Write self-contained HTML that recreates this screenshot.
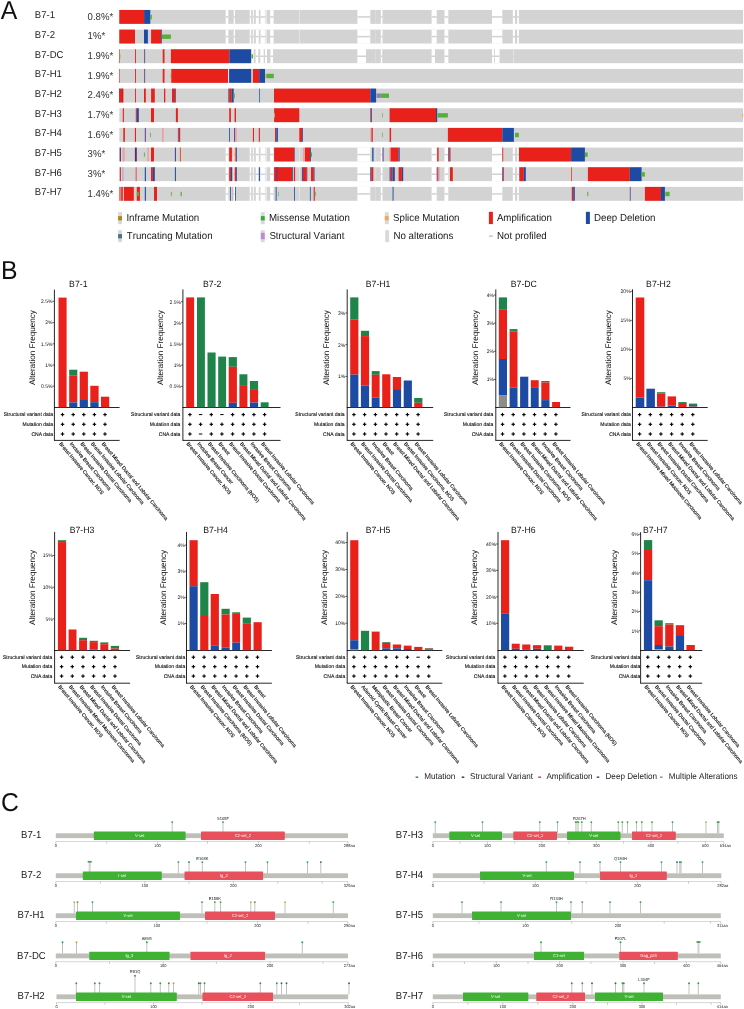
<!DOCTYPE html>
<html><head><meta charset="utf-8"><title>Figure</title>
<style>
html,body{margin:0;padding:0;background:#fff;}
svg{display:block;font-family:"Liberation Sans", Arial, sans-serif;text-rendering:geometricPrecision;}
</style></head><body>
<svg width="744" height="1009" viewBox="0 0 744 1009">
<rect x="0" y="0" width="744" height="1009" fill="#ffffff"/>
<text transform="translate(0.80,18.50) scale(0.9569,1)" font-size="25.916" text-anchor="start" fill="#111">A</text>
<text transform="translate(34.80,18.35) scale(0.9569,1)" font-size="9.980" text-anchor="start" fill="#222">B7-1</text>
<text transform="translate(87.60,19.80) scale(0.9569,1)" font-size="10.032" text-anchor="start" fill="#333">0.8%*</text>
<rect x="119.30" y="9.95" width="623.80" height="13.90" fill="#d3d3d3"/>
<rect x="225.70" y="9.75" width="2.60" height="14.30" fill="#ffffff"/>
<rect x="225.70" y="16.20" width="2.60" height="1.50" fill="#d0d3d3"/>
<rect x="233.70" y="9.75" width="1.30" height="14.30" fill="#ffffff"/>
<rect x="233.70" y="16.20" width="1.30" height="1.50" fill="#d0d3d3"/>
<rect x="249.75" y="9.75" width="1.35" height="14.30" fill="#ffffff"/>
<rect x="249.75" y="16.20" width="1.35" height="1.50" fill="#d0d3d3"/>
<rect x="252.80" y="9.75" width="1.00" height="14.30" fill="#ffffff"/>
<rect x="252.80" y="16.20" width="1.00" height="1.50" fill="#d0d3d3"/>
<rect x="255.80" y="9.75" width="3.00" height="14.30" fill="#ffffff"/>
<rect x="255.80" y="16.20" width="3.00" height="1.50" fill="#d0d3d3"/>
<rect x="260.50" y="9.75" width="4.40" height="14.30" fill="#ffffff"/>
<rect x="260.50" y="16.20" width="4.40" height="1.50" fill="#d0d3d3"/>
<rect x="265.50" y="9.75" width="1.00" height="14.30" fill="#ffffff"/>
<rect x="265.50" y="16.20" width="1.00" height="1.50" fill="#d0d3d3"/>
<rect x="270.20" y="9.75" width="3.40" height="14.30" fill="#ffffff"/>
<rect x="270.20" y="16.20" width="3.40" height="1.50" fill="#d0d3d3"/>
<rect x="299.30" y="9.75" width="0.40" height="14.30" fill="#ffffff"/>
<rect x="299.30" y="16.20" width="0.40" height="1.50" fill="#d0d3d3"/>
<rect x="357.40" y="9.75" width="12.90" height="14.30" fill="#ffffff"/>
<rect x="357.40" y="16.20" width="12.90" height="1.50" fill="#d0d3d3"/>
<rect x="380.80" y="9.75" width="1.70" height="14.30" fill="#ffffff"/>
<rect x="380.80" y="16.20" width="1.70" height="1.50" fill="#d0d3d3"/>
<rect x="431.60" y="9.75" width="5.10" height="14.30" fill="#ffffff"/>
<rect x="431.60" y="16.20" width="5.10" height="1.50" fill="#d0d3d3"/>
<rect x="444.50" y="9.75" width="3.80" height="14.30" fill="#ffffff"/>
<rect x="444.50" y="16.20" width="3.80" height="1.50" fill="#d0d3d3"/>
<rect x="492.00" y="9.75" width="10.30" height="14.30" fill="#ffffff"/>
<rect x="492.00" y="16.20" width="10.30" height="1.50" fill="#d0d3d3"/>
<rect x="512.80" y="9.75" width="2.20" height="14.30" fill="#ffffff"/>
<rect x="512.80" y="16.20" width="2.20" height="1.50" fill="#d0d3d3"/>
<rect x="517.20" y="9.75" width="1.70" height="14.30" fill="#ffffff"/>
<rect x="517.20" y="16.20" width="1.70" height="1.50" fill="#d0d3d3"/>
<rect x="375.30" y="9.95" width="0.70" height="13.90" fill="#dedede"/>
<rect x="119.30" y="9.95" width="24.80" height="13.90" fill="#e8211b"/>
<rect x="144.10" y="9.95" width="6.20" height="13.90" fill="#1d4ba3"/>
<rect x="150.30" y="14.85" width="1.60" height="4.40" fill="#55b03a"/>
<text transform="translate(34.80,38.01) scale(0.9569,1)" font-size="9.980" text-anchor="start" fill="#222">B7-2</text>
<text transform="translate(87.60,39.46) scale(0.9569,1)" font-size="10.032" text-anchor="start" fill="#333">1%*</text>
<rect x="119.30" y="29.61" width="623.80" height="13.90" fill="#d3d3d3"/>
<rect x="225.70" y="29.41" width="2.60" height="14.30" fill="#ffffff"/>
<rect x="225.70" y="35.86" width="2.60" height="1.50" fill="#d0d3d3"/>
<rect x="233.70" y="29.41" width="1.30" height="14.30" fill="#ffffff"/>
<rect x="233.70" y="35.86" width="1.30" height="1.50" fill="#d0d3d3"/>
<rect x="249.75" y="29.41" width="1.35" height="14.30" fill="#ffffff"/>
<rect x="249.75" y="35.86" width="1.35" height="1.50" fill="#d0d3d3"/>
<rect x="252.80" y="29.41" width="1.00" height="14.30" fill="#ffffff"/>
<rect x="252.80" y="35.86" width="1.00" height="1.50" fill="#d0d3d3"/>
<rect x="255.80" y="29.41" width="3.00" height="14.30" fill="#ffffff"/>
<rect x="255.80" y="35.86" width="3.00" height="1.50" fill="#d0d3d3"/>
<rect x="260.50" y="29.41" width="4.40" height="14.30" fill="#ffffff"/>
<rect x="260.50" y="35.86" width="4.40" height="1.50" fill="#d0d3d3"/>
<rect x="265.50" y="29.41" width="1.00" height="14.30" fill="#ffffff"/>
<rect x="265.50" y="35.86" width="1.00" height="1.50" fill="#d0d3d3"/>
<rect x="270.20" y="29.41" width="3.40" height="14.30" fill="#ffffff"/>
<rect x="270.20" y="35.86" width="3.40" height="1.50" fill="#d0d3d3"/>
<rect x="299.30" y="29.41" width="0.40" height="14.30" fill="#ffffff"/>
<rect x="299.30" y="35.86" width="0.40" height="1.50" fill="#d0d3d3"/>
<rect x="357.40" y="29.41" width="12.90" height="14.30" fill="#ffffff"/>
<rect x="357.40" y="35.86" width="12.90" height="1.50" fill="#d0d3d3"/>
<rect x="380.80" y="29.41" width="1.70" height="14.30" fill="#ffffff"/>
<rect x="380.80" y="35.86" width="1.70" height="1.50" fill="#d0d3d3"/>
<rect x="431.60" y="29.41" width="5.10" height="14.30" fill="#ffffff"/>
<rect x="431.60" y="35.86" width="5.10" height="1.50" fill="#d0d3d3"/>
<rect x="444.50" y="29.41" width="3.80" height="14.30" fill="#ffffff"/>
<rect x="444.50" y="35.86" width="3.80" height="1.50" fill="#d0d3d3"/>
<rect x="492.00" y="29.41" width="10.30" height="14.30" fill="#ffffff"/>
<rect x="492.00" y="35.86" width="10.30" height="1.50" fill="#d0d3d3"/>
<rect x="512.80" y="29.41" width="2.20" height="14.30" fill="#ffffff"/>
<rect x="512.80" y="35.86" width="2.20" height="1.50" fill="#d0d3d3"/>
<rect x="517.20" y="29.41" width="1.70" height="14.30" fill="#ffffff"/>
<rect x="517.20" y="35.86" width="1.70" height="1.50" fill="#d0d3d3"/>
<rect x="375.30" y="29.61" width="0.70" height="13.90" fill="#dedede"/>
<rect x="119.30" y="29.61" width="15.70" height="13.90" fill="#e8211b"/>
<rect x="144.00" y="29.61" width="3.90" height="13.90" fill="#1d4ba3"/>
<rect x="151.10" y="29.61" width="10.10" height="13.90" fill="#e8211b"/>
<rect x="161.20" y="29.61" width="0.70" height="13.90" fill="#1d4ba3"/>
<rect x="161.90" y="34.51" width="9.00" height="4.40" fill="#55b03a"/>
<text transform="translate(34.80,57.67) scale(0.9569,1)" font-size="9.980" text-anchor="start" fill="#222">B7-DC</text>
<text transform="translate(87.60,59.12) scale(0.9569,1)" font-size="10.032" text-anchor="start" fill="#333">1.9%*</text>
<rect x="119.30" y="49.27" width="623.80" height="13.90" fill="#d3d3d3"/>
<rect x="251.20" y="49.07" width="2.40" height="14.30" fill="#ffffff"/>
<rect x="251.20" y="55.52" width="2.40" height="1.50" fill="#d0d3d3"/>
<rect x="255.60" y="49.07" width="2.70" height="14.30" fill="#ffffff"/>
<rect x="255.60" y="55.52" width="2.70" height="1.50" fill="#d0d3d3"/>
<rect x="260.30" y="49.07" width="3.40" height="14.30" fill="#ffffff"/>
<rect x="260.30" y="55.52" width="3.40" height="1.50" fill="#d0d3d3"/>
<rect x="265.00" y="49.07" width="2.00" height="14.30" fill="#ffffff"/>
<rect x="265.00" y="55.52" width="2.00" height="1.50" fill="#d0d3d3"/>
<rect x="270.40" y="49.07" width="2.70" height="14.30" fill="#ffffff"/>
<rect x="270.40" y="55.52" width="2.70" height="1.50" fill="#d0d3d3"/>
<rect x="357.40" y="49.07" width="8.60" height="14.30" fill="#ffffff"/>
<rect x="357.40" y="55.52" width="8.60" height="1.50" fill="#d0d3d3"/>
<rect x="380.80" y="49.07" width="1.40" height="14.30" fill="#ffffff"/>
<rect x="380.80" y="55.52" width="1.40" height="1.50" fill="#d0d3d3"/>
<rect x="431.60" y="49.07" width="3.40" height="14.30" fill="#ffffff"/>
<rect x="431.60" y="55.52" width="3.40" height="1.50" fill="#d0d3d3"/>
<rect x="444.50" y="49.07" width="3.80" height="14.30" fill="#ffffff"/>
<rect x="444.50" y="55.52" width="3.80" height="1.50" fill="#d0d3d3"/>
<rect x="492.00" y="49.07" width="2.00" height="14.30" fill="#ffffff"/>
<rect x="492.00" y="55.52" width="2.00" height="1.50" fill="#d0d3d3"/>
<rect x="494.80" y="49.07" width="4.70" height="14.30" fill="#ffffff"/>
<rect x="494.80" y="55.52" width="4.70" height="1.50" fill="#d0d3d3"/>
<rect x="513.30" y="49.07" width="0.40" height="14.30" fill="#ffffff"/>
<rect x="513.30" y="55.52" width="0.40" height="1.50" fill="#d0d3d3"/>
<rect x="375.30" y="49.27" width="0.70" height="13.90" fill="#dedede"/>
<rect x="119.30" y="49.27" width="0.60" height="13.90" fill="#e8211b"/>
<rect x="119.30" y="54.17" width="1.00" height="4.40" fill="#55b03a"/>
<rect x="135.00" y="49.27" width="0.90" height="13.90" fill="#e8211b"/>
<rect x="144.00" y="49.27" width="0.50" height="13.90" fill="#e8211b"/>
<rect x="144.50" y="49.27" width="0.60" height="13.90" fill="#1d4ba3"/>
<rect x="162.70" y="49.27" width="1.80" height="13.90" fill="#e8211b"/>
<rect x="170.90" y="49.27" width="58.50" height="13.90" fill="#e8211b"/>
<rect x="229.40" y="49.27" width="21.80" height="13.90" fill="#1d4ba3"/>
<rect x="251.50" y="54.17" width="1.50" height="4.40" fill="#55b03a"/>
<text transform="translate(34.80,77.33) scale(0.9569,1)" font-size="9.980" text-anchor="start" fill="#222">B7-H1</text>
<text transform="translate(87.60,78.78) scale(0.9569,1)" font-size="10.032" text-anchor="start" fill="#333">1.9%*</text>
<rect x="119.30" y="68.93" width="623.80" height="13.90" fill="#d3d3d3"/>
<rect x="119.30" y="68.93" width="0.60" height="13.90" fill="#e8211b"/>
<rect x="135.00" y="68.93" width="0.90" height="13.90" fill="#e8211b"/>
<rect x="144.00" y="68.93" width="0.50" height="13.90" fill="#e8211b"/>
<rect x="144.50" y="68.93" width="0.60" height="13.90" fill="#1d4ba3"/>
<rect x="162.70" y="68.93" width="1.80" height="13.90" fill="#e8211b"/>
<rect x="170.50" y="73.83" width="0.80" height="4.40" fill="#e0a030"/>
<rect x="171.30" y="68.93" width="56.80" height="13.90" fill="#e8211b"/>
<rect x="228.10" y="68.93" width="1.00" height="13.90" fill="#e4e4e4"/>
<rect x="229.10" y="68.93" width="22.10" height="13.90" fill="#1d4ba3"/>
<rect x="252.90" y="68.93" width="6.30" height="13.90" fill="#e8211b"/>
<rect x="259.20" y="68.93" width="5.80" height="13.90" fill="#1d4ba3"/>
<rect x="265.40" y="73.83" width="1.00" height="4.40" fill="#e0a030"/>
<rect x="266.40" y="73.83" width="7.40" height="4.40" fill="#55b03a"/>
<text transform="translate(34.80,96.99) scale(0.9569,1)" font-size="9.980" text-anchor="start" fill="#222">B7-H2</text>
<text transform="translate(87.60,98.44) scale(0.9569,1)" font-size="10.032" text-anchor="start" fill="#333">2.4%*</text>
<rect x="119.30" y="88.59" width="623.80" height="13.90" fill="#d3d3d3"/>
<rect x="119.30" y="88.59" width="3.90" height="13.90" fill="#e8211b"/>
<rect x="119.30" y="88.59" width="0.60" height="13.90" fill="#b81a1a"/>
<rect x="122.60" y="88.59" width="0.60" height="13.90" fill="#b81a1a"/>
<rect x="135.00" y="88.59" width="0.90" height="13.90" fill="#e8211b"/>
<rect x="144.00" y="88.59" width="1.80" height="13.90" fill="#e8211b"/>
<rect x="151.10" y="88.59" width="3.70" height="13.90" fill="#e8211b"/>
<rect x="164.00" y="88.59" width="1.30" height="13.90" fill="#e8211b"/>
<rect x="172.00" y="88.59" width="3.20" height="13.90" fill="#e8211b"/>
<rect x="175.20" y="88.59" width="0.70" height="13.90" fill="#1d4ba3"/>
<rect x="228.10" y="88.59" width="0.60" height="13.90" fill="#1d4ba3"/>
<rect x="229.10" y="88.59" width="2.70" height="13.90" fill="#e8211b"/>
<rect x="231.80" y="88.59" width="1.90" height="13.90" fill="#1d4ba3"/>
<rect x="233.50" y="93.49" width="1.30" height="4.40" fill="#55b03a"/>
<rect x="259.00" y="88.59" width="0.70" height="13.90" fill="#1d4ba3"/>
<rect x="274.00" y="88.59" width="96.30" height="13.90" fill="#e8211b"/>
<rect x="370.30" y="88.59" width="5.80" height="13.90" fill="#1d4ba3"/>
<rect x="376.50" y="93.49" width="5.40" height="4.40" fill="#7f8aa0"/>
<rect x="381.90" y="93.49" width="7.10" height="4.40" fill="#55b03a"/>
<text transform="translate(34.80,116.65) scale(0.9569,1)" font-size="9.980" text-anchor="start" fill="#222">B7-H3</text>
<text transform="translate(87.60,118.10) scale(0.9569,1)" font-size="10.032" text-anchor="start" fill="#333">1.7%*</text>
<rect x="119.30" y="108.25" width="623.80" height="13.90" fill="#d3d3d3"/>
<rect x="122.80" y="108.25" width="1.10" height="13.90" fill="#e8211b"/>
<rect x="135.80" y="108.25" width="1.00" height="13.90" fill="#e8211b"/>
<rect x="136.80" y="108.25" width="2.00" height="13.90" fill="#1d4ba3"/>
<rect x="151.00" y="108.25" width="3.00" height="13.90" fill="#e8211b"/>
<rect x="175.90" y="108.25" width="2.00" height="13.90" fill="#e8211b"/>
<rect x="229.20" y="108.25" width="1.70" height="13.90" fill="#e8211b"/>
<rect x="234.60" y="108.25" width="1.40" height="13.90" fill="#e8211b"/>
<rect x="274.10" y="108.25" width="25.20" height="13.90" fill="#e8211b"/>
<rect x="274.10" y="113.15" width="0.70" height="4.40" fill="#d8d060"/>
<rect x="370.30" y="108.25" width="0.70" height="13.90" fill="#e8211b"/>
<rect x="371.00" y="108.25" width="0.80" height="13.90" fill="#1d4ba3"/>
<rect x="382.10" y="113.15" width="0.60" height="4.40" fill="#55b03a"/>
<rect x="389.60" y="108.25" width="46.40" height="13.90" fill="#e8211b"/>
<rect x="436.00" y="108.25" width="1.20" height="13.90" fill="#1d4ba3"/>
<rect x="437.60" y="113.15" width="10.30" height="4.40" fill="#55b03a"/>
<rect x="742.50" y="113.15" width="0.60" height="4.40" fill="#e0a030"/>
<text transform="translate(34.80,136.31) scale(0.9569,1)" font-size="9.980" text-anchor="start" fill="#222">B7-H4</text>
<text transform="translate(87.60,137.76) scale(0.9569,1)" font-size="10.032" text-anchor="start" fill="#333">1.6%*</text>
<rect x="119.30" y="127.91" width="623.80" height="13.90" fill="#d3d3d3"/>
<rect x="123.30" y="127.91" width="1.60" height="13.90" fill="#e8211b"/>
<rect x="134.90" y="127.91" width="1.10" height="13.90" fill="#e8211b"/>
<rect x="144.80" y="127.91" width="1.10" height="13.90" fill="#6a4a9a"/>
<rect x="150.00" y="132.81" width="0.80" height="4.40" fill="#55b03a"/>
<rect x="162.00" y="127.91" width="1.70" height="13.90" fill="#e9a3a3"/>
<rect x="177.90" y="127.91" width="0.90" height="13.90" fill="#6a4a9a"/>
<rect x="178.80" y="127.91" width="1.40" height="13.90" fill="#e8211b"/>
<rect x="229.00" y="127.91" width="0.80" height="13.90" fill="#1d4ba3"/>
<rect x="234.00" y="127.91" width="1.20" height="13.90" fill="#6a4a9a"/>
<rect x="235.20" y="127.91" width="1.60" height="13.90" fill="#e9a3a3"/>
<rect x="252.90" y="127.91" width="1.10" height="13.90" fill="#e8211b"/>
<rect x="258.80" y="127.91" width="1.10" height="13.90" fill="#e8211b"/>
<rect x="275.00" y="127.91" width="1.30" height="13.90" fill="#e8211b"/>
<rect x="276.30" y="127.91" width="1.60" height="13.90" fill="#1d4ba3"/>
<rect x="299.30" y="127.91" width="2.80" height="13.90" fill="#e8211b"/>
<rect x="302.10" y="127.91" width="0.80" height="13.90" fill="#1d4ba3"/>
<rect x="370.30" y="127.91" width="1.20" height="13.90" fill="#e9a3a3"/>
<rect x="371.50" y="127.91" width="1.30" height="13.90" fill="#e8211b"/>
<rect x="382.10" y="132.81" width="0.60" height="4.40" fill="#55b03a"/>
<rect x="389.60" y="127.91" width="1.50" height="13.90" fill="#e8211b"/>
<rect x="447.90" y="127.91" width="54.40" height="13.90" fill="#e8211b"/>
<rect x="502.30" y="127.91" width="11.60" height="13.90" fill="#1d4ba3"/>
<rect x="515.00" y="132.81" width="3.90" height="4.40" fill="#55b03a"/>
<text transform="translate(34.80,155.97) scale(0.9569,1)" font-size="9.980" text-anchor="start" fill="#222">B7-H5</text>
<text transform="translate(87.60,157.42) scale(0.9569,1)" font-size="10.032" text-anchor="start" fill="#333">3%*</text>
<rect x="119.30" y="147.57" width="623.80" height="13.90" fill="#d3d3d3"/>
<rect x="225.70" y="147.37" width="2.60" height="14.30" fill="#ffffff"/>
<rect x="225.70" y="153.82" width="2.60" height="1.50" fill="#d0d3d3"/>
<rect x="233.70" y="147.37" width="1.30" height="14.30" fill="#ffffff"/>
<rect x="233.70" y="153.82" width="1.30" height="1.50" fill="#d0d3d3"/>
<rect x="249.75" y="147.37" width="1.35" height="14.30" fill="#ffffff"/>
<rect x="249.75" y="153.82" width="1.35" height="1.50" fill="#d0d3d3"/>
<rect x="252.80" y="147.37" width="1.00" height="14.30" fill="#ffffff"/>
<rect x="252.80" y="153.82" width="1.00" height="1.50" fill="#d0d3d3"/>
<rect x="255.80" y="147.37" width="3.00" height="14.30" fill="#ffffff"/>
<rect x="255.80" y="153.82" width="3.00" height="1.50" fill="#d0d3d3"/>
<rect x="260.50" y="147.37" width="4.40" height="14.30" fill="#ffffff"/>
<rect x="260.50" y="153.82" width="4.40" height="1.50" fill="#d0d3d3"/>
<rect x="265.50" y="147.37" width="1.00" height="14.30" fill="#ffffff"/>
<rect x="265.50" y="153.82" width="1.00" height="1.50" fill="#d0d3d3"/>
<rect x="270.20" y="147.37" width="3.40" height="14.30" fill="#ffffff"/>
<rect x="270.20" y="153.82" width="3.40" height="1.50" fill="#d0d3d3"/>
<rect x="299.30" y="147.37" width="0.40" height="14.30" fill="#ffffff"/>
<rect x="299.30" y="153.82" width="0.40" height="1.50" fill="#d0d3d3"/>
<rect x="357.40" y="147.37" width="12.90" height="14.30" fill="#ffffff"/>
<rect x="357.40" y="153.82" width="12.90" height="1.50" fill="#d0d3d3"/>
<rect x="380.80" y="147.37" width="1.70" height="14.30" fill="#ffffff"/>
<rect x="380.80" y="153.82" width="1.70" height="1.50" fill="#d0d3d3"/>
<rect x="431.60" y="147.37" width="5.10" height="14.30" fill="#ffffff"/>
<rect x="431.60" y="153.82" width="5.10" height="1.50" fill="#d0d3d3"/>
<rect x="444.50" y="147.37" width="3.80" height="14.30" fill="#ffffff"/>
<rect x="444.50" y="153.82" width="3.80" height="1.50" fill="#d0d3d3"/>
<rect x="492.00" y="147.37" width="10.30" height="14.30" fill="#ffffff"/>
<rect x="492.00" y="153.82" width="10.30" height="1.50" fill="#d0d3d3"/>
<rect x="512.80" y="147.37" width="2.20" height="14.30" fill="#ffffff"/>
<rect x="512.80" y="153.82" width="2.20" height="1.50" fill="#d0d3d3"/>
<rect x="517.20" y="147.37" width="1.70" height="14.30" fill="#ffffff"/>
<rect x="517.20" y="153.82" width="1.70" height="1.50" fill="#d0d3d3"/>
<rect x="375.30" y="147.57" width="0.70" height="13.90" fill="#dedede"/>
<rect x="119.70" y="147.57" width="1.20" height="13.90" fill="#5b2a6e"/>
<rect x="122.50" y="147.57" width="2.20" height="13.90" fill="#e9a3a3"/>
<rect x="134.90" y="147.57" width="1.90" height="13.90" fill="#5b2a6e"/>
<rect x="143.90" y="152.47" width="0.90" height="4.40" fill="#55b03a"/>
<rect x="147.30" y="147.57" width="1.60" height="13.90" fill="#e9a3a3"/>
<rect x="151.00" y="147.57" width="3.00" height="13.90" fill="#e8211b"/>
<rect x="174.90" y="147.57" width="1.00" height="13.90" fill="#3a3f9a"/>
<rect x="179.90" y="147.57" width="1.00" height="13.90" fill="#e8501b"/>
<rect x="229.20" y="147.57" width="2.70" height="13.90" fill="#e8211b"/>
<rect x="234.60" y="147.57" width="1.40" height="13.90" fill="#ee6a5a"/>
<rect x="236.00" y="147.57" width="0.80" height="13.90" fill="#1d4ba3"/>
<rect x="274.10" y="147.57" width="20.20" height="13.90" fill="#e8211b"/>
<rect x="294.30" y="147.57" width="0.50" height="13.90" fill="#1d4ba3"/>
<rect x="303.00" y="147.57" width="2.00" height="13.90" fill="#e9a3a3"/>
<rect x="305.00" y="147.57" width="5.20" height="13.90" fill="#e8211b"/>
<rect x="310.20" y="147.57" width="0.80" height="13.90" fill="#1d4ba3"/>
<rect x="311.00" y="152.47" width="1.00" height="4.40" fill="#55b03a"/>
<rect x="372.20" y="147.57" width="1.30" height="13.90" fill="#1d4ba3"/>
<rect x="382.50" y="147.57" width="1.10" height="13.90" fill="#6a4a9a"/>
<rect x="389.60" y="147.57" width="1.40" height="13.90" fill="#ee7a70"/>
<rect x="391.00" y="147.57" width="7.60" height="13.90" fill="#e8211b"/>
<rect x="398.60" y="147.57" width="1.10" height="13.90" fill="#1d4ba3"/>
<rect x="437.20" y="147.57" width="1.40" height="13.90" fill="#e8211b"/>
<rect x="448.30" y="147.57" width="0.90" height="13.90" fill="#1d4ba3"/>
<rect x="449.20" y="147.57" width="1.30" height="13.90" fill="#e8211b"/>
<rect x="502.30" y="147.57" width="0.90" height="13.90" fill="#e8211b"/>
<rect x="518.90" y="147.57" width="52.20" height="13.90" fill="#e8211b"/>
<rect x="571.10" y="147.57" width="13.80" height="13.90" fill="#1d4ba3"/>
<rect x="584.90" y="152.47" width="2.80" height="4.40" fill="#55b03a"/>
<text transform="translate(34.80,175.63) scale(0.9569,1)" font-size="9.980" text-anchor="start" fill="#222">B7-H6</text>
<text transform="translate(87.60,177.08) scale(0.9569,1)" font-size="10.032" text-anchor="start" fill="#333">3%*</text>
<rect x="119.30" y="167.23" width="623.80" height="13.90" fill="#d3d3d3"/>
<rect x="225.70" y="167.03" width="2.60" height="14.30" fill="#ffffff"/>
<rect x="225.70" y="173.48" width="2.60" height="1.50" fill="#d0d3d3"/>
<rect x="233.70" y="167.03" width="1.30" height="14.30" fill="#ffffff"/>
<rect x="233.70" y="173.48" width="1.30" height="1.50" fill="#d0d3d3"/>
<rect x="249.75" y="167.03" width="1.35" height="14.30" fill="#ffffff"/>
<rect x="249.75" y="173.48" width="1.35" height="1.50" fill="#d0d3d3"/>
<rect x="252.80" y="167.03" width="1.00" height="14.30" fill="#ffffff"/>
<rect x="252.80" y="173.48" width="1.00" height="1.50" fill="#d0d3d3"/>
<rect x="255.80" y="167.03" width="3.00" height="14.30" fill="#ffffff"/>
<rect x="255.80" y="173.48" width="3.00" height="1.50" fill="#d0d3d3"/>
<rect x="260.50" y="167.03" width="4.40" height="14.30" fill="#ffffff"/>
<rect x="260.50" y="173.48" width="4.40" height="1.50" fill="#d0d3d3"/>
<rect x="265.50" y="167.03" width="1.00" height="14.30" fill="#ffffff"/>
<rect x="265.50" y="173.48" width="1.00" height="1.50" fill="#d0d3d3"/>
<rect x="270.20" y="167.03" width="3.40" height="14.30" fill="#ffffff"/>
<rect x="270.20" y="173.48" width="3.40" height="1.50" fill="#d0d3d3"/>
<rect x="299.30" y="167.03" width="0.40" height="14.30" fill="#ffffff"/>
<rect x="299.30" y="173.48" width="0.40" height="1.50" fill="#d0d3d3"/>
<rect x="357.40" y="167.03" width="12.90" height="14.30" fill="#ffffff"/>
<rect x="357.40" y="173.48" width="12.90" height="1.50" fill="#d0d3d3"/>
<rect x="380.80" y="167.03" width="1.70" height="14.30" fill="#ffffff"/>
<rect x="380.80" y="173.48" width="1.70" height="1.50" fill="#d0d3d3"/>
<rect x="431.60" y="167.03" width="5.10" height="14.30" fill="#ffffff"/>
<rect x="431.60" y="173.48" width="5.10" height="1.50" fill="#d0d3d3"/>
<rect x="444.50" y="167.03" width="3.80" height="14.30" fill="#ffffff"/>
<rect x="444.50" y="173.48" width="3.80" height="1.50" fill="#d0d3d3"/>
<rect x="492.00" y="167.03" width="10.30" height="14.30" fill="#ffffff"/>
<rect x="492.00" y="173.48" width="10.30" height="1.50" fill="#d0d3d3"/>
<rect x="512.80" y="167.03" width="2.20" height="14.30" fill="#ffffff"/>
<rect x="512.80" y="173.48" width="2.20" height="1.50" fill="#d0d3d3"/>
<rect x="517.20" y="167.03" width="1.70" height="14.30" fill="#ffffff"/>
<rect x="517.20" y="173.48" width="1.70" height="1.50" fill="#d0d3d3"/>
<rect x="375.30" y="167.23" width="0.70" height="13.90" fill="#dedede"/>
<rect x="119.80" y="167.23" width="1.10" height="13.90" fill="#e8211b"/>
<rect x="122.00" y="167.23" width="1.60" height="13.90" fill="#b3b3d6"/>
<rect x="135.60" y="167.23" width="1.20" height="13.90" fill="#e86060"/>
<rect x="144.80" y="167.23" width="1.10" height="13.90" fill="#1d4ba3"/>
<rect x="151.00" y="167.23" width="1.90" height="13.90" fill="#e8211b"/>
<rect x="152.90" y="167.23" width="1.90" height="13.90" fill="#1d4ba3"/>
<rect x="174.90" y="167.23" width="1.00" height="13.90" fill="#1d4ba3"/>
<rect x="229.20" y="167.23" width="1.70" height="13.90" fill="#e8211b"/>
<rect x="230.90" y="167.23" width="1.30" height="13.90" fill="#1d4ba3"/>
<rect x="234.60" y="167.23" width="1.40" height="13.90" fill="#e8211b"/>
<rect x="236.00" y="167.23" width="0.80" height="13.90" fill="#1d4ba3"/>
<rect x="258.80" y="167.23" width="1.10" height="13.90" fill="#1d4ba3"/>
<rect x="274.10" y="167.23" width="18.20" height="13.90" fill="#e8211b"/>
<rect x="275.70" y="167.23" width="2.20" height="13.90" fill="#9a3060"/>
<rect x="292.30" y="167.23" width="0.80" height="13.90" fill="#1d4ba3"/>
<rect x="294.00" y="167.23" width="1.10" height="13.90" fill="#e8211b"/>
<rect x="301.90" y="167.23" width="1.00" height="13.90" fill="#1d4ba3"/>
<rect x="302.90" y="167.23" width="4.00" height="13.90" fill="#e8211b"/>
<rect x="306.90" y="167.23" width="0.60" height="13.90" fill="#6a9ad0"/>
<rect x="311.00" y="167.23" width="2.80" height="13.90" fill="#e8211b"/>
<rect x="313.80" y="167.23" width="0.70" height="13.90" fill="#1d4ba3"/>
<rect x="370.30" y="167.23" width="0.90" height="13.90" fill="#1d4ba3"/>
<rect x="371.20" y="167.23" width="2.10" height="13.90" fill="#e8211b"/>
<rect x="389.60" y="167.23" width="1.10" height="13.90" fill="#1d4ba3"/>
<rect x="390.70" y="167.23" width="1.90" height="13.90" fill="#e8211b"/>
<rect x="392.60" y="167.23" width="2.20" height="13.90" fill="#1d4ba3"/>
<rect x="398.60" y="167.23" width="3.30" height="13.90" fill="#e8211b"/>
<rect x="401.90" y="167.23" width="1.30" height="13.90" fill="#1d4ba3"/>
<rect x="436.70" y="167.23" width="0.90" height="13.90" fill="#e8211b"/>
<rect x="437.60" y="167.23" width="0.90" height="13.90" fill="#6a4a9a"/>
<rect x="438.50" y="167.23" width="1.20" height="13.90" fill="#e9a3a3"/>
<rect x="450.00" y="167.23" width="2.80" height="13.90" fill="#e8211b"/>
<rect x="502.30" y="167.23" width="0.70" height="13.90" fill="#1d4ba3"/>
<rect x="503.00" y="167.23" width="0.80" height="13.90" fill="#e8211b"/>
<rect x="519.30" y="167.23" width="4.50" height="13.90" fill="#e8211b"/>
<rect x="523.80" y="167.23" width="2.00" height="13.90" fill="#1d4ba3"/>
<rect x="571.10" y="167.23" width="0.70" height="13.90" fill="#e8211b"/>
<rect x="587.90" y="167.23" width="41.90" height="13.90" fill="#e8211b"/>
<rect x="629.80" y="167.23" width="11.80" height="13.90" fill="#1d4ba3"/>
<rect x="641.60" y="172.13" width="3.30" height="4.40" fill="#55b03a"/>
<text transform="translate(34.80,195.29) scale(0.9569,1)" font-size="9.980" text-anchor="start" fill="#222">B7-H7</text>
<text transform="translate(87.60,196.74) scale(0.9569,1)" font-size="10.032" text-anchor="start" fill="#333">1.4%*</text>
<rect x="119.30" y="186.89" width="623.80" height="13.90" fill="#d3d3d3"/>
<rect x="225.70" y="186.69" width="2.60" height="14.30" fill="#ffffff"/>
<rect x="225.70" y="193.14" width="2.60" height="1.50" fill="#d0d3d3"/>
<rect x="233.70" y="186.69" width="1.30" height="14.30" fill="#ffffff"/>
<rect x="233.70" y="193.14" width="1.30" height="1.50" fill="#d0d3d3"/>
<rect x="249.75" y="186.69" width="1.35" height="14.30" fill="#ffffff"/>
<rect x="249.75" y="193.14" width="1.35" height="1.50" fill="#d0d3d3"/>
<rect x="252.80" y="186.69" width="1.00" height="14.30" fill="#ffffff"/>
<rect x="252.80" y="193.14" width="1.00" height="1.50" fill="#d0d3d3"/>
<rect x="255.80" y="186.69" width="3.00" height="14.30" fill="#ffffff"/>
<rect x="255.80" y="193.14" width="3.00" height="1.50" fill="#d0d3d3"/>
<rect x="260.50" y="186.69" width="4.40" height="14.30" fill="#ffffff"/>
<rect x="260.50" y="193.14" width="4.40" height="1.50" fill="#d0d3d3"/>
<rect x="265.50" y="186.69" width="1.00" height="14.30" fill="#ffffff"/>
<rect x="265.50" y="193.14" width="1.00" height="1.50" fill="#d0d3d3"/>
<rect x="270.20" y="186.69" width="3.40" height="14.30" fill="#ffffff"/>
<rect x="270.20" y="193.14" width="3.40" height="1.50" fill="#d0d3d3"/>
<rect x="299.30" y="186.69" width="0.40" height="14.30" fill="#ffffff"/>
<rect x="299.30" y="193.14" width="0.40" height="1.50" fill="#d0d3d3"/>
<rect x="357.40" y="186.69" width="12.90" height="14.30" fill="#ffffff"/>
<rect x="357.40" y="193.14" width="12.90" height="1.50" fill="#d0d3d3"/>
<rect x="380.80" y="186.69" width="1.70" height="14.30" fill="#ffffff"/>
<rect x="380.80" y="193.14" width="1.70" height="1.50" fill="#d0d3d3"/>
<rect x="431.60" y="186.69" width="5.10" height="14.30" fill="#ffffff"/>
<rect x="431.60" y="193.14" width="5.10" height="1.50" fill="#d0d3d3"/>
<rect x="444.50" y="186.69" width="3.80" height="14.30" fill="#ffffff"/>
<rect x="444.50" y="193.14" width="3.80" height="1.50" fill="#d0d3d3"/>
<rect x="492.00" y="186.69" width="10.30" height="14.30" fill="#ffffff"/>
<rect x="492.00" y="193.14" width="10.30" height="1.50" fill="#d0d3d3"/>
<rect x="512.80" y="186.69" width="2.20" height="14.30" fill="#ffffff"/>
<rect x="512.80" y="193.14" width="2.20" height="1.50" fill="#d0d3d3"/>
<rect x="517.20" y="186.69" width="1.70" height="14.30" fill="#ffffff"/>
<rect x="517.20" y="193.14" width="1.70" height="1.50" fill="#d0d3d3"/>
<rect x="375.30" y="186.89" width="0.70" height="13.90" fill="#dedede"/>
<rect x="119.30" y="186.89" width="1.30" height="13.90" fill="#ee4a40"/>
<rect x="121.20" y="186.89" width="1.60" height="13.90" fill="#e8211b"/>
<rect x="123.90" y="186.89" width="9.90" height="13.90" fill="#e8211b"/>
<rect x="136.80" y="186.89" width="3.10" height="13.90" fill="#e8211b"/>
<rect x="136.80" y="191.79" width="2.10" height="4.40" fill="#55b03a"/>
<rect x="144.80" y="186.89" width="1.10" height="13.90" fill="#1d4ba3"/>
<rect x="154.00" y="186.89" width="3.00" height="13.90" fill="#e8211b"/>
<rect x="170.90" y="191.79" width="0.80" height="4.40" fill="#55b03a"/>
<rect x="180.60" y="191.79" width="1.20" height="4.40" fill="#55b03a"/>
<rect x="230.00" y="186.89" width="0.80" height="13.90" fill="#1d4ba3"/>
<rect x="232.00" y="186.89" width="0.70" height="13.90" fill="#e9a3a3"/>
<rect x="235.20" y="186.89" width="0.80" height="13.90" fill="#1d4ba3"/>
<rect x="275.70" y="186.89" width="0.90" height="13.90" fill="#1d4ba3"/>
<rect x="278.20" y="191.79" width="0.60" height="4.40" fill="#55b03a"/>
<rect x="294.00" y="186.89" width="0.80" height="13.90" fill="#1d4ba3"/>
<rect x="309.90" y="186.89" width="0.80" height="13.90" fill="#1d4ba3"/>
<rect x="313.70" y="186.89" width="1.10" height="13.90" fill="#e8211b"/>
<rect x="314.80" y="191.79" width="0.90" height="4.40" fill="#55b03a"/>
<rect x="392.60" y="186.89" width="0.90" height="13.90" fill="#1d4ba3"/>
<rect x="571.80" y="186.89" width="1.50" height="13.90" fill="#e8211b"/>
<rect x="573.30" y="186.89" width="1.50" height="13.90" fill="#1d4ba3"/>
<rect x="587.30" y="191.79" width="1.00" height="4.40" fill="#55b03a"/>
<rect x="629.80" y="186.89" width="0.90" height="13.90" fill="#6a4a9a"/>
<rect x="644.90" y="186.89" width="16.10" height="13.90" fill="#e8211b"/>
<rect x="661.00" y="186.89" width="3.90" height="13.90" fill="#1d4ba3"/>
<rect x="665.30" y="191.79" width="4.30" height="4.40" fill="#55b03a"/>
<rect x="118.10" y="212.20" width="3.90" height="12.00" fill="#d9d9d9"/>
<rect x="118.10" y="216.10" width="3.90" height="4.30" fill="#b5851a"/>
<text transform="translate(126.40,221.40) scale(0.9569,1)" font-size="10.157" text-anchor="start" fill="#181818" style="font-kerning:none">Inframe Mutation</text>
<rect x="118.10" y="230.20" width="3.90" height="12.00" fill="#d9d9d9"/>
<rect x="118.10" y="234.10" width="3.90" height="4.30" fill="#4a7386"/>
<text transform="translate(126.80,239.20) scale(0.9569,1)" font-size="10.157" text-anchor="start" fill="#181818" style="font-kerning:none">Truncating Mutation</text>
<rect x="260.80" y="212.20" width="3.90" height="12.00" fill="#d9d9d9"/>
<rect x="260.80" y="216.10" width="3.90" height="4.30" fill="#3aa832"/>
<text transform="translate(269.00,221.40) scale(0.9569,1)" font-size="10.157" text-anchor="start" fill="#181818" style="font-kerning:none">Missense Mutation</text>
<rect x="260.80" y="230.20" width="3.90" height="12.00" fill="#d9d9d9"/>
<rect x="260.80" y="232.80" width="3.90" height="6.40" fill="#bf8ad0"/>
<text transform="translate(269.40,239.20) scale(0.9569,1)" font-size="10.157" text-anchor="start" fill="#181818" style="font-kerning:none">Structural Variant</text>
<rect x="384.80" y="212.20" width="3.90" height="12.00" fill="#d9d9d9"/>
<rect x="384.80" y="216.10" width="3.90" height="4.30" fill="#f2a65a"/>
<text transform="translate(393.10,221.40) scale(0.9569,1)" font-size="10.157" text-anchor="start" fill="#181818" style="font-kerning:none">Splice Mutation</text>
<rect x="385.20" y="230.20" width="3.90" height="12.00" fill="#d9d9d9"/>
<text transform="translate(393.50,239.20) scale(0.9569,1)" font-size="10.157" text-anchor="start" fill="#181818" style="font-kerning:none">No alterations</text>
<rect x="488.90" y="211.80" width="4.00" height="12.30" fill="#e8211b"/>
<text transform="translate(496.90,221.40) scale(0.9569,1)" font-size="10.157" text-anchor="start" fill="#181818" style="font-kerning:none">Amplification</text>
<rect x="488.90" y="235.40" width="3.90" height="1.50" fill="#c4c4c4"/>
<text transform="translate(497.10,239.20) scale(0.9569,1)" font-size="10.157" text-anchor="start" fill="#181818" style="font-kerning:none">Not profiled</text>
<rect x="585.90" y="211.80" width="4.00" height="12.20" fill="#1d4ba3"/>
<text transform="translate(594.00,221.40) scale(0.9569,1)" font-size="10.157" text-anchor="start" fill="#181818" style="font-kerning:none">Deep Deletion</text>
<text transform="translate(0.90,278.80) scale(0.9569,1)" font-size="25.916" text-anchor="start" fill="#111">B</text>
<text transform="translate(78.30,287.30) scale(0.9569,1)" font-size="9.091" text-anchor="middle" fill="#111">B7-1</text>
<line x1="54.40" y1="289.60" x2="54.40" y2="440.40" stroke="#000" stroke-width="0.85"/>
<line x1="54.00" y1="407.50" x2="119.60" y2="407.50" stroke="#000" stroke-width="0.85"/>
<line x1="54.00" y1="440.40" x2="119.60" y2="440.40" stroke="#000" stroke-width="0.85"/>
<line x1="52.50" y1="301.30" x2="54.40" y2="301.30" stroke="#000" stroke-width="0.6"/>
<text transform="translate(52.50,303.10) scale(0.9569,1)" font-size="5.225" text-anchor="end" fill="#111">2.5%</text>
<line x1="52.50" y1="322.60" x2="54.40" y2="322.60" stroke="#000" stroke-width="0.6"/>
<text transform="translate(52.50,324.40) scale(0.9569,1)" font-size="5.225" text-anchor="end" fill="#111">2%</text>
<line x1="52.50" y1="343.80" x2="54.40" y2="343.80" stroke="#000" stroke-width="0.6"/>
<text transform="translate(52.50,345.60) scale(0.9569,1)" font-size="5.225" text-anchor="end" fill="#111">1.5%</text>
<line x1="52.50" y1="365.00" x2="54.40" y2="365.00" stroke="#000" stroke-width="0.6"/>
<text transform="translate(52.50,366.80) scale(0.9569,1)" font-size="5.225" text-anchor="end" fill="#111">1%</text>
<line x1="52.50" y1="386.20" x2="54.40" y2="386.20" stroke="#000" stroke-width="0.6"/>
<text transform="translate(52.50,388.00) scale(0.9569,1)" font-size="5.225" text-anchor="end" fill="#111">0.5%</text>
<rect x="58.50" y="297.60" width="8.10" height="109.70" fill="#e8211b"/>
<rect x="69.20" y="369.70" width="8.10" height="6.00" fill="#1e8449"/>
<rect x="69.20" y="375.70" width="8.10" height="26.70" fill="#e8211b"/>
<rect x="69.20" y="402.40" width="8.10" height="4.90" fill="#1d4ba3"/>
<rect x="79.70" y="371.70" width="8.20" height="28.30" fill="#e8211b"/>
<rect x="79.70" y="400.00" width="8.20" height="7.30" fill="#1d4ba3"/>
<rect x="90.30" y="385.80" width="8.30" height="16.40" fill="#e8211b"/>
<rect x="90.30" y="402.20" width="8.30" height="5.10" fill="#1d4ba3"/>
<rect x="101.00" y="396.70" width="8.20" height="10.60" fill="#e8211b"/>
<text transform="translate(53.00,416.30) scale(0.9569,1)" font-size="5.277" text-anchor="end" fill="#111" stroke="#111" stroke-width="0.12">Structural variant data</text>
<rect x="60.75" y="414.05" width="3.50" height="1.10" fill="#000"/>
<rect x="61.95" y="412.85" width="1.10" height="3.50" fill="#000"/>
<rect x="71.45" y="414.05" width="3.50" height="1.10" fill="#000"/>
<rect x="72.65" y="412.85" width="1.10" height="3.50" fill="#000"/>
<rect x="82.05" y="414.05" width="3.50" height="1.10" fill="#000"/>
<rect x="83.25" y="412.85" width="1.10" height="3.50" fill="#000"/>
<rect x="92.65" y="414.05" width="3.50" height="1.10" fill="#000"/>
<rect x="93.85" y="412.85" width="1.10" height="3.50" fill="#000"/>
<rect x="103.25" y="414.05" width="3.50" height="1.10" fill="#000"/>
<rect x="104.45" y="412.85" width="1.10" height="3.50" fill="#000"/>
<text transform="translate(53.00,426.00) scale(0.9569,1)" font-size="5.277" text-anchor="end" fill="#111" stroke="#111" stroke-width="0.12">Mutation data</text>
<rect x="60.75" y="423.75" width="3.50" height="1.10" fill="#000"/>
<rect x="61.95" y="422.55" width="1.10" height="3.50" fill="#000"/>
<rect x="71.45" y="423.75" width="3.50" height="1.10" fill="#000"/>
<rect x="72.65" y="422.55" width="1.10" height="3.50" fill="#000"/>
<rect x="82.05" y="423.75" width="3.50" height="1.10" fill="#000"/>
<rect x="83.25" y="422.55" width="1.10" height="3.50" fill="#000"/>
<rect x="92.65" y="423.75" width="3.50" height="1.10" fill="#000"/>
<rect x="93.85" y="422.55" width="1.10" height="3.50" fill="#000"/>
<rect x="103.25" y="423.75" width="3.50" height="1.10" fill="#000"/>
<rect x="104.45" y="422.55" width="1.10" height="3.50" fill="#000"/>
<text transform="translate(53.00,435.70) scale(0.9569,1)" font-size="5.277" text-anchor="end" fill="#111" stroke="#111" stroke-width="0.12">CNA data</text>
<rect x="60.75" y="433.45" width="3.50" height="1.10" fill="#000"/>
<rect x="61.95" y="432.25" width="1.10" height="3.50" fill="#000"/>
<rect x="71.45" y="433.45" width="3.50" height="1.10" fill="#000"/>
<rect x="72.65" y="432.25" width="1.10" height="3.50" fill="#000"/>
<rect x="82.05" y="433.45" width="3.50" height="1.10" fill="#000"/>
<rect x="83.25" y="432.25" width="1.10" height="3.50" fill="#000"/>
<rect x="92.65" y="433.45" width="3.50" height="1.10" fill="#000"/>
<rect x="93.85" y="432.25" width="1.10" height="3.50" fill="#000"/>
<rect x="103.25" y="433.45" width="3.50" height="1.10" fill="#000"/>
<rect x="104.45" y="432.25" width="1.10" height="3.50" fill="#000"/>
<text transform="translate(34.60,347.60) rotate(-90)" font-size="8.15" text-anchor="middle" fill="#111">Alteration Frequency</text>
<text transform="translate(58.90,444.00) rotate(50)" font-size="5.1" fill="#151515" stroke="#151515" stroke-width="0.15">Breast Invasive Cancer, NOS</text>
<text transform="translate(69.60,444.00) rotate(50)" font-size="5.1" fill="#151515" stroke="#151515" stroke-width="0.15">Invasive Breast Carcinoma</text>
<text transform="translate(80.20,444.00) rotate(50)" font-size="5.1" fill="#151515" stroke="#151515" stroke-width="0.15">Breast Invasive Ductal Carcinoma</text>
<text transform="translate(90.80,444.00) rotate(50)" font-size="5.1" fill="#151515" stroke="#151515" stroke-width="0.15">Breast Invasive Lobular Carcinoma</text>
<text transform="translate(101.40,444.00) rotate(50)" font-size="5.1" fill="#151515" stroke="#151515" stroke-width="0.15">Breast Mixed Ductal and Lobular Carcinoma</text>
<text transform="translate(212.20,287.30) scale(0.9569,1)" font-size="9.091" text-anchor="middle" fill="#111">B7-2</text>
<line x1="182.90" y1="289.40" x2="182.90" y2="440.40" stroke="#000" stroke-width="0.85"/>
<line x1="182.50" y1="407.50" x2="280.50" y2="407.50" stroke="#000" stroke-width="0.85"/>
<line x1="182.50" y1="440.40" x2="280.50" y2="440.40" stroke="#000" stroke-width="0.85"/>
<line x1="181.00" y1="301.70" x2="182.90" y2="301.70" stroke="#000" stroke-width="0.6"/>
<text transform="translate(181.00,303.50) scale(0.9569,1)" font-size="5.225" text-anchor="end" fill="#111">2.5%</text>
<line x1="181.00" y1="322.80" x2="182.90" y2="322.80" stroke="#000" stroke-width="0.6"/>
<text transform="translate(181.00,324.60) scale(0.9569,1)" font-size="5.225" text-anchor="end" fill="#111">2%</text>
<line x1="181.00" y1="344.00" x2="182.90" y2="344.00" stroke="#000" stroke-width="0.6"/>
<text transform="translate(181.00,345.80) scale(0.9569,1)" font-size="5.225" text-anchor="end" fill="#111">1.5%</text>
<line x1="181.00" y1="365.20" x2="182.90" y2="365.20" stroke="#000" stroke-width="0.6"/>
<text transform="translate(181.00,367.00) scale(0.9569,1)" font-size="5.225" text-anchor="end" fill="#111">1%</text>
<line x1="181.00" y1="386.40" x2="182.90" y2="386.40" stroke="#000" stroke-width="0.6"/>
<text transform="translate(181.00,388.20) scale(0.9569,1)" font-size="5.225" text-anchor="end" fill="#111">0.5%</text>
<rect x="186.20" y="297.40" width="7.90" height="109.90" fill="#e8211b"/>
<rect x="197.00" y="297.40" width="7.90" height="109.90" fill="#1e8449"/>
<rect x="207.50" y="352.50" width="8.10" height="54.80" fill="#1e8449"/>
<rect x="218.20" y="356.60" width="7.90" height="50.70" fill="#1e8449"/>
<rect x="228.70" y="357.10" width="8.20" height="9.70" fill="#1e8449"/>
<rect x="228.70" y="366.80" width="8.20" height="36.00" fill="#e8211b"/>
<rect x="228.70" y="402.80" width="8.20" height="4.50" fill="#1d4ba3"/>
<rect x="239.40" y="374.30" width="8.00" height="11.60" fill="#1e8449"/>
<rect x="239.40" y="385.90" width="8.00" height="21.40" fill="#e8211b"/>
<rect x="249.90" y="381.00" width="8.20" height="8.10" fill="#1e8449"/>
<rect x="249.90" y="389.10" width="8.20" height="13.40" fill="#e8211b"/>
<rect x="249.90" y="402.50" width="8.20" height="4.80" fill="#1d4ba3"/>
<rect x="260.70" y="402.30" width="7.90" height="5.00" fill="#1e8449"/>
<text transform="translate(180.40,416.30) scale(0.9569,1)" font-size="5.277" text-anchor="end" fill="#111" stroke="#111" stroke-width="0.12">Structural variant data</text>
<rect x="188.15" y="414.05" width="3.50" height="1.10" fill="#000"/>
<rect x="189.35" y="412.85" width="1.10" height="3.50" fill="#000"/>
<rect x="198.90" y="414.10" width="3.40" height="1.00" fill="#000"/>
<rect x="209.55" y="414.05" width="3.50" height="1.10" fill="#000"/>
<rect x="210.75" y="412.85" width="1.10" height="3.50" fill="#000"/>
<rect x="220.20" y="414.10" width="3.40" height="1.00" fill="#000"/>
<rect x="230.85" y="414.05" width="3.50" height="1.10" fill="#000"/>
<rect x="232.05" y="412.85" width="1.10" height="3.50" fill="#000"/>
<rect x="241.55" y="414.05" width="3.50" height="1.10" fill="#000"/>
<rect x="242.75" y="412.85" width="1.10" height="3.50" fill="#000"/>
<rect x="252.15" y="414.05" width="3.50" height="1.10" fill="#000"/>
<rect x="253.35" y="412.85" width="1.10" height="3.50" fill="#000"/>
<rect x="262.85" y="414.05" width="3.50" height="1.10" fill="#000"/>
<rect x="264.05" y="412.85" width="1.10" height="3.50" fill="#000"/>
<text transform="translate(180.40,426.00) scale(0.9569,1)" font-size="5.277" text-anchor="end" fill="#111" stroke="#111" stroke-width="0.12">Mutation data</text>
<rect x="188.15" y="423.75" width="3.50" height="1.10" fill="#000"/>
<rect x="189.35" y="422.55" width="1.10" height="3.50" fill="#000"/>
<rect x="198.85" y="423.75" width="3.50" height="1.10" fill="#000"/>
<rect x="200.05" y="422.55" width="1.10" height="3.50" fill="#000"/>
<rect x="209.55" y="423.75" width="3.50" height="1.10" fill="#000"/>
<rect x="210.75" y="422.55" width="1.10" height="3.50" fill="#000"/>
<rect x="220.15" y="423.75" width="3.50" height="1.10" fill="#000"/>
<rect x="221.35" y="422.55" width="1.10" height="3.50" fill="#000"/>
<rect x="230.85" y="423.75" width="3.50" height="1.10" fill="#000"/>
<rect x="232.05" y="422.55" width="1.10" height="3.50" fill="#000"/>
<rect x="241.55" y="423.75" width="3.50" height="1.10" fill="#000"/>
<rect x="242.75" y="422.55" width="1.10" height="3.50" fill="#000"/>
<rect x="252.15" y="423.75" width="3.50" height="1.10" fill="#000"/>
<rect x="253.35" y="422.55" width="1.10" height="3.50" fill="#000"/>
<rect x="262.85" y="423.75" width="3.50" height="1.10" fill="#000"/>
<rect x="264.05" y="422.55" width="1.10" height="3.50" fill="#000"/>
<text transform="translate(180.40,435.70) scale(0.9569,1)" font-size="5.277" text-anchor="end" fill="#111" stroke="#111" stroke-width="0.12">CNA data</text>
<rect x="188.15" y="433.45" width="3.50" height="1.10" fill="#000"/>
<rect x="189.35" y="432.25" width="1.10" height="3.50" fill="#000"/>
<rect x="198.90" y="433.50" width="3.40" height="1.00" fill="#000"/>
<rect x="209.55" y="433.45" width="3.50" height="1.10" fill="#000"/>
<rect x="210.75" y="432.25" width="1.10" height="3.50" fill="#000"/>
<rect x="220.15" y="433.45" width="3.50" height="1.10" fill="#000"/>
<rect x="221.35" y="432.25" width="1.10" height="3.50" fill="#000"/>
<rect x="230.85" y="433.45" width="3.50" height="1.10" fill="#000"/>
<rect x="232.05" y="432.25" width="1.10" height="3.50" fill="#000"/>
<rect x="241.55" y="433.45" width="3.50" height="1.10" fill="#000"/>
<rect x="242.75" y="432.25" width="1.10" height="3.50" fill="#000"/>
<rect x="252.15" y="433.45" width="3.50" height="1.10" fill="#000"/>
<rect x="253.35" y="432.25" width="1.10" height="3.50" fill="#000"/>
<rect x="262.85" y="433.45" width="3.50" height="1.10" fill="#000"/>
<rect x="264.05" y="432.25" width="1.10" height="3.50" fill="#000"/>
<text transform="translate(163.20,347.60) rotate(-90)" font-size="8.15" text-anchor="middle" fill="#111">Alteration Frequency</text>
<text transform="translate(186.30,444.00) rotate(50)" font-size="5.1" fill="#151515" stroke="#151515" stroke-width="0.15">Breast Invasive Cancer, NOS</text>
<text transform="translate(197.00,444.00) rotate(50)" font-size="5.1" fill="#151515" stroke="#151515" stroke-width="0.15">Invasive Breast Cancer</text>
<text transform="translate(207.70,444.00) rotate(50)" font-size="5.1" fill="#151515" stroke="#151515" stroke-width="0.15">Breast Invasive Carcinoma (NOS)</text>
<text transform="translate(218.30,444.00) rotate(50)" font-size="5.1" fill="#151515" stroke="#151515" stroke-width="0.15">Breast</text>
<text transform="translate(229.00,444.00) rotate(50)" font-size="5.1" fill="#151515" stroke="#151515" stroke-width="0.15">Breast Invasive Ductal Carcinoma</text>
<text transform="translate(239.70,444.00) rotate(50)" font-size="5.1" fill="#151515" stroke="#151515" stroke-width="0.15">Breast Mixed Ductal and Lobular Carcinoma</text>
<text transform="translate(250.30,444.00) rotate(50)" font-size="5.1" fill="#151515" stroke="#151515" stroke-width="0.15">Invasive Breast Carcinoma</text>
<text transform="translate(261.00,444.00) rotate(50)" font-size="5.1" fill="#151515" stroke="#151515" stroke-width="0.15">Breast Invasive Lobular Carcinoma</text>
<text transform="translate(378.10,287.30) scale(0.9569,1)" font-size="9.091" text-anchor="middle" fill="#111">B7-H1</text>
<line x1="347.20" y1="289.40" x2="347.20" y2="440.40" stroke="#000" stroke-width="0.85"/>
<line x1="346.80" y1="407.50" x2="433.20" y2="407.50" stroke="#000" stroke-width="0.85"/>
<line x1="346.80" y1="440.40" x2="433.20" y2="440.40" stroke="#000" stroke-width="0.85"/>
<line x1="345.30" y1="313.00" x2="347.20" y2="313.00" stroke="#000" stroke-width="0.6"/>
<text transform="translate(345.30,314.80) scale(0.9569,1)" font-size="5.225" text-anchor="end" fill="#111">3%</text>
<line x1="345.30" y1="344.70" x2="347.20" y2="344.70" stroke="#000" stroke-width="0.6"/>
<text transform="translate(345.30,346.50) scale(0.9569,1)" font-size="5.225" text-anchor="end" fill="#111">2%</text>
<line x1="345.30" y1="376.40" x2="347.20" y2="376.40" stroke="#000" stroke-width="0.6"/>
<text transform="translate(345.30,378.20) scale(0.9569,1)" font-size="5.225" text-anchor="end" fill="#111">1%</text>
<rect x="350.20" y="297.40" width="8.20" height="22.30" fill="#1e8449"/>
<rect x="350.20" y="319.70" width="8.20" height="54.90" fill="#e8211b"/>
<rect x="350.20" y="374.60" width="8.20" height="32.70" fill="#1d4ba3"/>
<rect x="360.90" y="330.80" width="8.20" height="5.30" fill="#1e8449"/>
<rect x="360.90" y="336.10" width="8.20" height="49.50" fill="#e8211b"/>
<rect x="360.90" y="385.60" width="8.20" height="21.70" fill="#1d4ba3"/>
<rect x="371.70" y="371.10" width="7.90" height="3.70" fill="#1e8449"/>
<rect x="371.70" y="374.80" width="7.90" height="22.90" fill="#e8211b"/>
<rect x="371.70" y="397.70" width="7.90" height="9.60" fill="#1d4ba3"/>
<rect x="382.20" y="374.30" width="8.20" height="33.00" fill="#e8211b"/>
<rect x="392.90" y="377.00" width="8.20" height="12.10" fill="#e8211b"/>
<rect x="392.90" y="389.10" width="8.20" height="18.20" fill="#1d4ba3"/>
<rect x="403.70" y="380.50" width="8.20" height="26.80" fill="#1d4ba3"/>
<rect x="414.20" y="398.00" width="8.20" height="4.80" fill="#1e8449"/>
<rect x="414.20" y="402.80" width="8.20" height="4.50" fill="#e8211b"/>
<text transform="translate(344.60,416.30) scale(0.9569,1)" font-size="5.277" text-anchor="end" fill="#111" stroke="#111" stroke-width="0.12">Structural variant data</text>
<rect x="352.15" y="414.05" width="3.50" height="1.10" fill="#000"/>
<rect x="353.35" y="412.85" width="1.10" height="3.50" fill="#000"/>
<rect x="362.85" y="414.05" width="3.50" height="1.10" fill="#000"/>
<rect x="364.05" y="412.85" width="1.10" height="3.50" fill="#000"/>
<rect x="373.65" y="414.05" width="3.50" height="1.10" fill="#000"/>
<rect x="374.85" y="412.85" width="1.10" height="3.50" fill="#000"/>
<rect x="384.25" y="414.05" width="3.50" height="1.10" fill="#000"/>
<rect x="385.45" y="412.85" width="1.10" height="3.50" fill="#000"/>
<rect x="394.95" y="414.05" width="3.50" height="1.10" fill="#000"/>
<rect x="396.15" y="412.85" width="1.10" height="3.50" fill="#000"/>
<rect x="405.65" y="414.05" width="3.50" height="1.10" fill="#000"/>
<rect x="406.85" y="412.85" width="1.10" height="3.50" fill="#000"/>
<rect x="416.35" y="414.05" width="3.50" height="1.10" fill="#000"/>
<rect x="417.55" y="412.85" width="1.10" height="3.50" fill="#000"/>
<text transform="translate(344.60,426.00) scale(0.9569,1)" font-size="5.277" text-anchor="end" fill="#111" stroke="#111" stroke-width="0.12">Mutation data</text>
<rect x="352.15" y="423.75" width="3.50" height="1.10" fill="#000"/>
<rect x="353.35" y="422.55" width="1.10" height="3.50" fill="#000"/>
<rect x="362.85" y="423.75" width="3.50" height="1.10" fill="#000"/>
<rect x="364.05" y="422.55" width="1.10" height="3.50" fill="#000"/>
<rect x="373.65" y="423.75" width="3.50" height="1.10" fill="#000"/>
<rect x="374.85" y="422.55" width="1.10" height="3.50" fill="#000"/>
<rect x="384.25" y="423.75" width="3.50" height="1.10" fill="#000"/>
<rect x="385.45" y="422.55" width="1.10" height="3.50" fill="#000"/>
<rect x="394.95" y="423.75" width="3.50" height="1.10" fill="#000"/>
<rect x="396.15" y="422.55" width="1.10" height="3.50" fill="#000"/>
<rect x="405.65" y="423.75" width="3.50" height="1.10" fill="#000"/>
<rect x="406.85" y="422.55" width="1.10" height="3.50" fill="#000"/>
<rect x="416.35" y="423.75" width="3.50" height="1.10" fill="#000"/>
<rect x="417.55" y="422.55" width="1.10" height="3.50" fill="#000"/>
<text transform="translate(344.60,435.70) scale(0.9569,1)" font-size="5.277" text-anchor="end" fill="#111" stroke="#111" stroke-width="0.12">CNA data</text>
<rect x="352.15" y="433.45" width="3.50" height="1.10" fill="#000"/>
<rect x="353.35" y="432.25" width="1.10" height="3.50" fill="#000"/>
<rect x="362.85" y="433.45" width="3.50" height="1.10" fill="#000"/>
<rect x="364.05" y="432.25" width="1.10" height="3.50" fill="#000"/>
<rect x="373.65" y="433.45" width="3.50" height="1.10" fill="#000"/>
<rect x="374.85" y="432.25" width="1.10" height="3.50" fill="#000"/>
<rect x="384.25" y="433.45" width="3.50" height="1.10" fill="#000"/>
<rect x="385.45" y="432.25" width="1.10" height="3.50" fill="#000"/>
<rect x="394.95" y="433.45" width="3.50" height="1.10" fill="#000"/>
<rect x="396.15" y="432.25" width="1.10" height="3.50" fill="#000"/>
<rect x="405.65" y="433.45" width="3.50" height="1.10" fill="#000"/>
<rect x="406.85" y="432.25" width="1.10" height="3.50" fill="#000"/>
<rect x="416.35" y="433.45" width="3.50" height="1.10" fill="#000"/>
<rect x="417.55" y="432.25" width="1.10" height="3.50" fill="#000"/>
<text transform="translate(328.50,347.60) rotate(-90)" font-size="8.15" text-anchor="middle" fill="#111">Alteration Frequency</text>
<text transform="translate(350.30,444.00) rotate(50)" font-size="5.1" fill="#151515" stroke="#151515" stroke-width="0.15">Breast Invasive Cancer, NOS</text>
<text transform="translate(361.00,444.00) rotate(50)" font-size="5.1" fill="#151515" stroke="#151515" stroke-width="0.15">Breast Invasive Ductal Carcinoma</text>
<text transform="translate(371.80,444.00) rotate(50)" font-size="5.1" fill="#151515" stroke="#151515" stroke-width="0.15">Invasive Breast Carcinoma</text>
<text transform="translate(382.40,444.00) rotate(50)" font-size="5.1" fill="#151515" stroke="#151515" stroke-width="0.15">Breast</text>
<text transform="translate(393.10,444.00) rotate(50)" font-size="5.1" fill="#151515" stroke="#151515" stroke-width="0.15">Breast Mixed Ductal and Lobular Carcinoma</text>
<text transform="translate(403.80,444.00) rotate(50)" font-size="5.1" fill="#151515" stroke="#151515" stroke-width="0.15">Breast Invasive Carcinoma, NOS</text>
<text transform="translate(414.50,444.00) rotate(50)" font-size="5.1" fill="#151515" stroke="#151515" stroke-width="0.15">Breast Invasive Lobular Carcinoma</text>
<text transform="translate(523.80,287.30) scale(0.9569,1)" font-size="9.091" text-anchor="middle" fill="#111">B7-DC</text>
<line x1="495.80" y1="289.40" x2="495.80" y2="440.40" stroke="#000" stroke-width="0.85"/>
<line x1="495.40" y1="407.50" x2="570.50" y2="407.50" stroke="#000" stroke-width="0.85"/>
<line x1="495.40" y1="440.40" x2="570.50" y2="440.40" stroke="#000" stroke-width="0.85"/>
<line x1="493.90" y1="295.00" x2="495.80" y2="295.00" stroke="#000" stroke-width="0.6"/>
<text transform="translate(493.90,296.80) scale(0.9569,1)" font-size="5.225" text-anchor="end" fill="#111">4%</text>
<line x1="493.90" y1="323.20" x2="495.80" y2="323.20" stroke="#000" stroke-width="0.6"/>
<text transform="translate(493.90,325.00) scale(0.9569,1)" font-size="5.225" text-anchor="end" fill="#111">3%</text>
<line x1="493.90" y1="351.30" x2="495.80" y2="351.30" stroke="#000" stroke-width="0.6"/>
<text transform="translate(493.90,353.10) scale(0.9569,1)" font-size="5.225" text-anchor="end" fill="#111">2%</text>
<line x1="493.90" y1="379.40" x2="495.80" y2="379.40" stroke="#000" stroke-width="0.6"/>
<text transform="translate(493.90,381.20) scale(0.9569,1)" font-size="5.225" text-anchor="end" fill="#111">1%</text>
<rect x="498.80" y="297.40" width="8.20" height="12.40" fill="#1e8449"/>
<rect x="498.80" y="309.80" width="8.20" height="49.20" fill="#e8211b"/>
<rect x="498.80" y="359.00" width="8.20" height="36.50" fill="#1d4ba3"/>
<rect x="498.80" y="395.50" width="8.20" height="11.80" fill="#8c8c8c"/>
<rect x="509.60" y="329.10" width="7.90" height="2.50" fill="#1e8449"/>
<rect x="509.60" y="331.60" width="7.90" height="56.10" fill="#e8211b"/>
<rect x="509.60" y="387.70" width="7.90" height="19.60" fill="#1d4ba3"/>
<rect x="520.10" y="376.70" width="8.20" height="30.60" fill="#1d4ba3"/>
<rect x="530.80" y="380.20" width="7.90" height="7.00" fill="#e8211b"/>
<rect x="530.80" y="387.20" width="7.90" height="20.10" fill="#1d4ba3"/>
<rect x="541.30" y="381.00" width="8.20" height="1.40" fill="#1e8449"/>
<rect x="541.30" y="382.40" width="8.20" height="17.70" fill="#e8211b"/>
<rect x="541.30" y="400.10" width="8.20" height="7.20" fill="#1d4ba3"/>
<rect x="552.10" y="402.00" width="7.90" height="5.30" fill="#e8211b"/>
<text transform="translate(493.30,416.30) scale(0.9569,1)" font-size="5.277" text-anchor="end" fill="#111" stroke="#111" stroke-width="0.12">Structural variant data</text>
<rect x="500.75" y="414.05" width="3.50" height="1.10" fill="#000"/>
<rect x="501.95" y="412.85" width="1.10" height="3.50" fill="#000"/>
<rect x="511.45" y="414.05" width="3.50" height="1.10" fill="#000"/>
<rect x="512.65" y="412.85" width="1.10" height="3.50" fill="#000"/>
<rect x="522.15" y="414.05" width="3.50" height="1.10" fill="#000"/>
<rect x="523.35" y="412.85" width="1.10" height="3.50" fill="#000"/>
<rect x="532.75" y="414.05" width="3.50" height="1.10" fill="#000"/>
<rect x="533.95" y="412.85" width="1.10" height="3.50" fill="#000"/>
<rect x="543.45" y="414.05" width="3.50" height="1.10" fill="#000"/>
<rect x="544.65" y="412.85" width="1.10" height="3.50" fill="#000"/>
<rect x="554.15" y="414.05" width="3.50" height="1.10" fill="#000"/>
<rect x="555.35" y="412.85" width="1.10" height="3.50" fill="#000"/>
<text transform="translate(493.30,426.00) scale(0.9569,1)" font-size="5.277" text-anchor="end" fill="#111" stroke="#111" stroke-width="0.12">Mutation data</text>
<rect x="500.75" y="423.75" width="3.50" height="1.10" fill="#000"/>
<rect x="501.95" y="422.55" width="1.10" height="3.50" fill="#000"/>
<rect x="511.45" y="423.75" width="3.50" height="1.10" fill="#000"/>
<rect x="512.65" y="422.55" width="1.10" height="3.50" fill="#000"/>
<rect x="522.15" y="423.75" width="3.50" height="1.10" fill="#000"/>
<rect x="523.35" y="422.55" width="1.10" height="3.50" fill="#000"/>
<rect x="532.75" y="423.75" width="3.50" height="1.10" fill="#000"/>
<rect x="533.95" y="422.55" width="1.10" height="3.50" fill="#000"/>
<rect x="543.45" y="423.75" width="3.50" height="1.10" fill="#000"/>
<rect x="544.65" y="422.55" width="1.10" height="3.50" fill="#000"/>
<rect x="554.15" y="423.75" width="3.50" height="1.10" fill="#000"/>
<rect x="555.35" y="422.55" width="1.10" height="3.50" fill="#000"/>
<text transform="translate(493.30,435.70) scale(0.9569,1)" font-size="5.277" text-anchor="end" fill="#111" stroke="#111" stroke-width="0.12">CNA data</text>
<rect x="500.75" y="433.45" width="3.50" height="1.10" fill="#000"/>
<rect x="501.95" y="432.25" width="1.10" height="3.50" fill="#000"/>
<rect x="511.45" y="433.45" width="3.50" height="1.10" fill="#000"/>
<rect x="512.65" y="432.25" width="1.10" height="3.50" fill="#000"/>
<rect x="522.15" y="433.45" width="3.50" height="1.10" fill="#000"/>
<rect x="523.35" y="432.25" width="1.10" height="3.50" fill="#000"/>
<rect x="532.75" y="433.45" width="3.50" height="1.10" fill="#000"/>
<rect x="533.95" y="432.25" width="1.10" height="3.50" fill="#000"/>
<rect x="543.45" y="433.45" width="3.50" height="1.10" fill="#000"/>
<rect x="544.65" y="432.25" width="1.10" height="3.50" fill="#000"/>
<rect x="554.15" y="433.45" width="3.50" height="1.10" fill="#000"/>
<rect x="555.35" y="432.25" width="1.10" height="3.50" fill="#000"/>
<text transform="translate(477.50,347.60) rotate(-90)" font-size="8.15" text-anchor="middle" fill="#111">Alteration Frequency</text>
<text transform="translate(498.90,444.00) rotate(50)" font-size="5.1" fill="#151515" stroke="#151515" stroke-width="0.15">Breast Invasive Cancer, NOS</text>
<text transform="translate(509.60,444.00) rotate(50)" font-size="5.1" fill="#151515" stroke="#151515" stroke-width="0.15">Breast Invasive Ductal Carcinoma</text>
<text transform="translate(520.30,444.00) rotate(50)" font-size="5.1" fill="#151515" stroke="#151515" stroke-width="0.15">Breast Invasive Carcinoma, NOS</text>
<text transform="translate(530.90,444.00) rotate(50)" font-size="5.1" fill="#151515" stroke="#151515" stroke-width="0.15">Breast Mixed Ductal and Lobular Carcinoma</text>
<text transform="translate(541.60,444.00) rotate(50)" font-size="5.1" fill="#151515" stroke="#151515" stroke-width="0.15">Invasive Breast Carcinoma</text>
<text transform="translate(552.30,444.00) rotate(50)" font-size="5.1" fill="#151515" stroke="#151515" stroke-width="0.15">Breast Invasive Lobular Carcinoma</text>
<text transform="translate(658.40,287.30) scale(0.9569,1)" font-size="9.091" text-anchor="middle" fill="#111">B7-H2</text>
<line x1="632.50" y1="289.30" x2="632.50" y2="440.40" stroke="#000" stroke-width="0.85"/>
<line x1="632.10" y1="407.50" x2="707.70" y2="407.50" stroke="#000" stroke-width="0.85"/>
<line x1="632.10" y1="440.40" x2="707.70" y2="440.40" stroke="#000" stroke-width="0.85"/>
<line x1="630.60" y1="291.30" x2="632.50" y2="291.30" stroke="#000" stroke-width="0.6"/>
<text transform="translate(630.60,293.10) scale(0.9569,1)" font-size="5.225" text-anchor="end" fill="#111">20%</text>
<line x1="630.60" y1="320.30" x2="632.50" y2="320.30" stroke="#000" stroke-width="0.6"/>
<text transform="translate(630.60,322.10) scale(0.9569,1)" font-size="5.225" text-anchor="end" fill="#111">15%</text>
<line x1="630.60" y1="349.40" x2="632.50" y2="349.40" stroke="#000" stroke-width="0.6"/>
<text transform="translate(630.60,351.20) scale(0.9569,1)" font-size="5.225" text-anchor="end" fill="#111">10%</text>
<line x1="630.60" y1="378.40" x2="632.50" y2="378.40" stroke="#000" stroke-width="0.6"/>
<text transform="translate(630.60,380.20) scale(0.9569,1)" font-size="5.225" text-anchor="end" fill="#111">5%</text>
<rect x="635.70" y="297.50" width="8.60" height="100.10" fill="#e8211b"/>
<rect x="635.70" y="397.60" width="8.60" height="9.70" fill="#1d4ba3"/>
<rect x="646.40" y="388.70" width="8.50" height="18.60" fill="#1d4ba3"/>
<rect x="657.00" y="392.20" width="8.30" height="1.50" fill="#1e8449"/>
<rect x="657.00" y="393.70" width="8.30" height="13.00" fill="#e8211b"/>
<rect x="657.00" y="406.70" width="8.30" height="0.60" fill="#1d4ba3"/>
<rect x="667.60" y="396.40" width="8.40" height="9.10" fill="#e8211b"/>
<rect x="667.60" y="405.50" width="8.40" height="1.80" fill="#1d4ba3"/>
<rect x="678.30" y="402.10" width="8.30" height="0.90" fill="#1e8449"/>
<rect x="678.30" y="403.00" width="8.30" height="4.00" fill="#e8211b"/>
<rect x="678.30" y="407.00" width="8.30" height="0.30" fill="#1d4ba3"/>
<rect x="688.90" y="403.60" width="8.30" height="1.40" fill="#1e8449"/>
<rect x="688.90" y="405.00" width="8.30" height="1.50" fill="#e8211b"/>
<rect x="688.90" y="406.50" width="8.30" height="0.80" fill="#1d4ba3"/>
<text transform="translate(630.80,416.30) scale(0.9569,1)" font-size="5.277" text-anchor="end" fill="#111" stroke="#111" stroke-width="0.12">Structural variant data</text>
<rect x="637.85" y="414.05" width="3.50" height="1.10" fill="#000"/>
<rect x="639.05" y="412.85" width="1.10" height="3.50" fill="#000"/>
<rect x="648.55" y="414.05" width="3.50" height="1.10" fill="#000"/>
<rect x="649.75" y="412.85" width="1.10" height="3.50" fill="#000"/>
<rect x="659.15" y="414.05" width="3.50" height="1.10" fill="#000"/>
<rect x="660.35" y="412.85" width="1.10" height="3.50" fill="#000"/>
<rect x="669.85" y="414.05" width="3.50" height="1.10" fill="#000"/>
<rect x="671.05" y="412.85" width="1.10" height="3.50" fill="#000"/>
<rect x="680.45" y="414.05" width="3.50" height="1.10" fill="#000"/>
<rect x="681.65" y="412.85" width="1.10" height="3.50" fill="#000"/>
<rect x="691.05" y="414.05" width="3.50" height="1.10" fill="#000"/>
<rect x="692.25" y="412.85" width="1.10" height="3.50" fill="#000"/>
<text transform="translate(630.80,426.00) scale(0.9569,1)" font-size="5.277" text-anchor="end" fill="#111" stroke="#111" stroke-width="0.12">Mutation data</text>
<rect x="637.85" y="423.75" width="3.50" height="1.10" fill="#000"/>
<rect x="639.05" y="422.55" width="1.10" height="3.50" fill="#000"/>
<rect x="648.55" y="423.75" width="3.50" height="1.10" fill="#000"/>
<rect x="649.75" y="422.55" width="1.10" height="3.50" fill="#000"/>
<rect x="659.15" y="423.75" width="3.50" height="1.10" fill="#000"/>
<rect x="660.35" y="422.55" width="1.10" height="3.50" fill="#000"/>
<rect x="669.85" y="423.75" width="3.50" height="1.10" fill="#000"/>
<rect x="671.05" y="422.55" width="1.10" height="3.50" fill="#000"/>
<rect x="680.45" y="423.75" width="3.50" height="1.10" fill="#000"/>
<rect x="681.65" y="422.55" width="1.10" height="3.50" fill="#000"/>
<rect x="691.05" y="423.75" width="3.50" height="1.10" fill="#000"/>
<rect x="692.25" y="422.55" width="1.10" height="3.50" fill="#000"/>
<text transform="translate(630.80,435.70) scale(0.9569,1)" font-size="5.277" text-anchor="end" fill="#111" stroke="#111" stroke-width="0.12">CNA data</text>
<rect x="637.85" y="433.45" width="3.50" height="1.10" fill="#000"/>
<rect x="639.05" y="432.25" width="1.10" height="3.50" fill="#000"/>
<rect x="648.55" y="433.45" width="3.50" height="1.10" fill="#000"/>
<rect x="649.75" y="432.25" width="1.10" height="3.50" fill="#000"/>
<rect x="659.15" y="433.45" width="3.50" height="1.10" fill="#000"/>
<rect x="660.35" y="432.25" width="1.10" height="3.50" fill="#000"/>
<rect x="669.85" y="433.45" width="3.50" height="1.10" fill="#000"/>
<rect x="671.05" y="432.25" width="1.10" height="3.50" fill="#000"/>
<rect x="680.45" y="433.45" width="3.50" height="1.10" fill="#000"/>
<rect x="681.65" y="432.25" width="1.10" height="3.50" fill="#000"/>
<rect x="691.05" y="433.45" width="3.50" height="1.10" fill="#000"/>
<rect x="692.25" y="432.25" width="1.10" height="3.50" fill="#000"/>
<text transform="translate(611.10,347.60) rotate(-90)" font-size="8.15" text-anchor="middle" fill="#111">Alteration Frequency</text>
<text transform="translate(636.00,444.00) rotate(50)" font-size="5.1" fill="#151515" stroke="#151515" stroke-width="0.15">Breast Invasive Mixed Mucinous Carcinoma</text>
<text transform="translate(646.70,444.00) rotate(50)" font-size="5.1" fill="#151515" stroke="#151515" stroke-width="0.15">Breast Invasive Cancer, NOS</text>
<text transform="translate(657.30,444.00) rotate(50)" font-size="5.1" fill="#151515" stroke="#151515" stroke-width="0.15">Breast Invasive Ductal Carcinoma</text>
<text transform="translate(668.00,444.00) rotate(50)" font-size="5.1" fill="#151515" stroke="#151515" stroke-width="0.15">Breast Mixed Ductal and Lobular Carcinoma</text>
<text transform="translate(678.60,444.00) rotate(50)" font-size="5.1" fill="#151515" stroke="#151515" stroke-width="0.15">Invasive Breast Carcinoma</text>
<text transform="translate(689.20,444.00) rotate(50)" font-size="5.1" fill="#151515" stroke="#151515" stroke-width="0.15">Breast Invasive Lobular Carcinoma</text>
<text transform="translate(82.00,533.20) scale(0.9569,1)" font-size="9.091" text-anchor="middle" fill="#111">B7-H3</text>
<line x1="54.60" y1="531.90" x2="54.60" y2="683.20" stroke="#000" stroke-width="0.85"/>
<line x1="54.20" y1="650.50" x2="130.10" y2="650.50" stroke="#000" stroke-width="0.85"/>
<line x1="54.20" y1="683.20" x2="130.10" y2="683.20" stroke="#000" stroke-width="0.85"/>
<line x1="52.70" y1="555.50" x2="54.60" y2="555.50" stroke="#000" stroke-width="0.6"/>
<text transform="translate(52.70,557.30) scale(0.9569,1)" font-size="5.225" text-anchor="end" fill="#111">15%</text>
<line x1="52.70" y1="587.20" x2="54.60" y2="587.20" stroke="#000" stroke-width="0.6"/>
<text transform="translate(52.70,589.00) scale(0.9569,1)" font-size="5.225" text-anchor="end" fill="#111">10%</text>
<line x1="52.70" y1="618.80" x2="54.60" y2="618.80" stroke="#000" stroke-width="0.6"/>
<text transform="translate(52.70,620.60) scale(0.9569,1)" font-size="5.225" text-anchor="end" fill="#111">5%</text>
<rect x="57.90" y="540.20" width="8.20" height="1.90" fill="#1e8449"/>
<rect x="57.90" y="542.10" width="8.20" height="108.20" fill="#e8211b"/>
<rect x="68.60" y="629.50" width="7.90" height="20.80" fill="#e8211b"/>
<rect x="79.10" y="637.80" width="7.90" height="2.40" fill="#1e8449"/>
<rect x="79.10" y="640.20" width="7.90" height="10.10" fill="#e8211b"/>
<rect x="89.60" y="640.80" width="8.20" height="1.30" fill="#1e8449"/>
<rect x="89.60" y="642.10" width="8.20" height="7.50" fill="#e8211b"/>
<rect x="89.60" y="649.60" width="8.20" height="0.70" fill="#1d4ba3"/>
<rect x="100.30" y="642.40" width="8.00" height="1.80" fill="#1e8449"/>
<rect x="100.30" y="644.20" width="8.00" height="6.10" fill="#e8211b"/>
<rect x="110.80" y="645.90" width="8.20" height="2.60" fill="#1e8449"/>
<rect x="110.80" y="648.50" width="8.20" height="1.80" fill="#e8211b"/>
<text transform="translate(52.30,658.90) scale(0.9569,1)" font-size="5.277" text-anchor="end" fill="#111" stroke="#111" stroke-width="0.12">Structural variant data</text>
<rect x="59.85" y="656.65" width="3.50" height="1.10" fill="#000"/>
<rect x="61.05" y="655.45" width="1.10" height="3.50" fill="#000"/>
<rect x="70.55" y="656.65" width="3.50" height="1.10" fill="#000"/>
<rect x="71.75" y="655.45" width="1.10" height="3.50" fill="#000"/>
<rect x="81.25" y="656.65" width="3.50" height="1.10" fill="#000"/>
<rect x="82.45" y="655.45" width="1.10" height="3.50" fill="#000"/>
<rect x="91.85" y="656.65" width="3.50" height="1.10" fill="#000"/>
<rect x="93.05" y="655.45" width="1.10" height="3.50" fill="#000"/>
<rect x="102.55" y="656.65" width="3.50" height="1.10" fill="#000"/>
<rect x="103.75" y="655.45" width="1.10" height="3.50" fill="#000"/>
<rect x="113.25" y="656.65" width="3.50" height="1.10" fill="#000"/>
<rect x="114.45" y="655.45" width="1.10" height="3.50" fill="#000"/>
<text transform="translate(52.30,668.35) scale(0.9569,1)" font-size="5.277" text-anchor="end" fill="#111" stroke="#111" stroke-width="0.12">Mutation data</text>
<rect x="59.85" y="666.10" width="3.50" height="1.10" fill="#000"/>
<rect x="61.05" y="664.90" width="1.10" height="3.50" fill="#000"/>
<rect x="70.55" y="666.10" width="3.50" height="1.10" fill="#000"/>
<rect x="71.75" y="664.90" width="1.10" height="3.50" fill="#000"/>
<rect x="81.25" y="666.10" width="3.50" height="1.10" fill="#000"/>
<rect x="82.45" y="664.90" width="1.10" height="3.50" fill="#000"/>
<rect x="91.85" y="666.10" width="3.50" height="1.10" fill="#000"/>
<rect x="93.05" y="664.90" width="1.10" height="3.50" fill="#000"/>
<rect x="102.55" y="666.10" width="3.50" height="1.10" fill="#000"/>
<rect x="103.75" y="664.90" width="1.10" height="3.50" fill="#000"/>
<rect x="113.25" y="666.10" width="3.50" height="1.10" fill="#000"/>
<rect x="114.45" y="664.90" width="1.10" height="3.50" fill="#000"/>
<text transform="translate(52.30,677.80) scale(0.9569,1)" font-size="5.277" text-anchor="end" fill="#111" stroke="#111" stroke-width="0.12">CNA data</text>
<rect x="59.85" y="675.55" width="3.50" height="1.10" fill="#000"/>
<rect x="61.05" y="674.35" width="1.10" height="3.50" fill="#000"/>
<rect x="70.55" y="675.55" width="3.50" height="1.10" fill="#000"/>
<rect x="71.75" y="674.35" width="1.10" height="3.50" fill="#000"/>
<rect x="81.25" y="675.55" width="3.50" height="1.10" fill="#000"/>
<rect x="82.45" y="674.35" width="1.10" height="3.50" fill="#000"/>
<rect x="91.85" y="675.55" width="3.50" height="1.10" fill="#000"/>
<rect x="93.05" y="674.35" width="1.10" height="3.50" fill="#000"/>
<rect x="102.55" y="675.55" width="3.50" height="1.10" fill="#000"/>
<rect x="103.75" y="674.35" width="1.10" height="3.50" fill="#000"/>
<rect x="113.25" y="675.55" width="3.50" height="1.10" fill="#000"/>
<rect x="114.45" y="674.35" width="1.10" height="3.50" fill="#000"/>
<text transform="translate(35.20,587.40) rotate(-90)" font-size="8.15" text-anchor="middle" fill="#111">Alteration Frequency</text>
<text transform="translate(58.00,687.00) rotate(50)" font-size="5.1" fill="#151515" stroke="#151515" stroke-width="0.15">Breast Invasive Cancer, NOS</text>
<text transform="translate(68.70,687.00) rotate(50)" font-size="5.1" fill="#151515" stroke="#151515" stroke-width="0.15">Breast Invasive Mixed Mucinous Carcinoma</text>
<text transform="translate(79.40,687.00) rotate(50)" font-size="5.1" fill="#151515" stroke="#151515" stroke-width="0.15">Breast Mixed Ductal and Lobular Carcinoma</text>
<text transform="translate(90.00,687.00) rotate(50)" font-size="5.1" fill="#151515" stroke="#151515" stroke-width="0.15">Breast Invasive Ductal Carcinoma</text>
<text transform="translate(100.70,687.00) rotate(50)" font-size="5.1" fill="#151515" stroke="#151515" stroke-width="0.15">Invasive Breast Carcinoma</text>
<text transform="translate(111.40,687.00) rotate(50)" font-size="5.1" fill="#151515" stroke="#151515" stroke-width="0.15">Breast Invasive Lobular Carcinoma</text>
<text transform="translate(215.50,533.20) scale(0.9569,1)" font-size="9.091" text-anchor="middle" fill="#111">B7-H4</text>
<line x1="186.50" y1="531.90" x2="186.50" y2="683.20" stroke="#000" stroke-width="0.85"/>
<line x1="186.10" y1="650.50" x2="271.90" y2="650.50" stroke="#000" stroke-width="0.85"/>
<line x1="186.10" y1="683.20" x2="271.90" y2="683.20" stroke="#000" stroke-width="0.85"/>
<line x1="184.60" y1="545.10" x2="186.50" y2="545.10" stroke="#000" stroke-width="0.6"/>
<text transform="translate(184.60,546.90) scale(0.9569,1)" font-size="5.225" text-anchor="end" fill="#111">4%</text>
<line x1="184.60" y1="571.20" x2="186.50" y2="571.20" stroke="#000" stroke-width="0.6"/>
<text transform="translate(184.60,573.00) scale(0.9569,1)" font-size="5.225" text-anchor="end" fill="#111">3%</text>
<line x1="184.60" y1="597.30" x2="186.50" y2="597.30" stroke="#000" stroke-width="0.6"/>
<text transform="translate(184.60,599.10) scale(0.9569,1)" font-size="5.225" text-anchor="end" fill="#111">2%</text>
<line x1="184.60" y1="623.50" x2="186.50" y2="623.50" stroke="#000" stroke-width="0.6"/>
<text transform="translate(184.60,625.30) scale(0.9569,1)" font-size="5.225" text-anchor="end" fill="#111">1%</text>
<rect x="189.50" y="540.20" width="8.20" height="46.00" fill="#e8211b"/>
<rect x="189.50" y="586.20" width="8.20" height="64.10" fill="#1d4ba3"/>
<rect x="200.20" y="582.20" width="8.20" height="33.80" fill="#1e8449"/>
<rect x="200.20" y="616.00" width="8.20" height="34.30" fill="#e8211b"/>
<rect x="210.70" y="594.00" width="8.20" height="51.30" fill="#e8211b"/>
<rect x="210.70" y="645.30" width="8.20" height="5.00" fill="#1d4ba3"/>
<rect x="221.50" y="608.80" width="8.20" height="5.60" fill="#1e8449"/>
<rect x="221.50" y="614.40" width="8.20" height="33.10" fill="#e8211b"/>
<rect x="221.50" y="647.50" width="8.20" height="2.80" fill="#1d4ba3"/>
<rect x="232.20" y="612.30" width="7.90" height="1.60" fill="#1e8449"/>
<rect x="232.20" y="613.90" width="7.90" height="28.70" fill="#e8211b"/>
<rect x="232.20" y="642.60" width="7.90" height="7.70" fill="#1d4ba3"/>
<rect x="242.70" y="617.60" width="8.20" height="6.20" fill="#1e8449"/>
<rect x="242.70" y="623.80" width="8.20" height="26.50" fill="#e8211b"/>
<rect x="253.50" y="622.20" width="8.20" height="28.10" fill="#e8211b"/>
<text transform="translate(185.30,658.90) scale(0.9569,1)" font-size="5.277" text-anchor="end" fill="#111" stroke="#111" stroke-width="0.12">Structural variant data</text>
<rect x="191.65" y="656.65" width="3.50" height="1.10" fill="#000"/>
<rect x="192.85" y="655.45" width="1.10" height="3.50" fill="#000"/>
<rect x="202.35" y="656.65" width="3.50" height="1.10" fill="#000"/>
<rect x="203.55" y="655.45" width="1.10" height="3.50" fill="#000"/>
<rect x="213.05" y="656.65" width="3.50" height="1.10" fill="#000"/>
<rect x="214.25" y="655.45" width="1.10" height="3.50" fill="#000"/>
<rect x="223.65" y="656.65" width="3.50" height="1.10" fill="#000"/>
<rect x="224.85" y="655.45" width="1.10" height="3.50" fill="#000"/>
<rect x="234.35" y="656.65" width="3.50" height="1.10" fill="#000"/>
<rect x="235.55" y="655.45" width="1.10" height="3.50" fill="#000"/>
<rect x="245.05" y="656.65" width="3.50" height="1.10" fill="#000"/>
<rect x="246.25" y="655.45" width="1.10" height="3.50" fill="#000"/>
<rect x="255.75" y="656.65" width="3.50" height="1.10" fill="#000"/>
<rect x="256.95" y="655.45" width="1.10" height="3.50" fill="#000"/>
<text transform="translate(185.30,668.35) scale(0.9569,1)" font-size="5.277" text-anchor="end" fill="#111" stroke="#111" stroke-width="0.12">Mutation data</text>
<rect x="191.65" y="666.10" width="3.50" height="1.10" fill="#000"/>
<rect x="192.85" y="664.90" width="1.10" height="3.50" fill="#000"/>
<rect x="202.35" y="666.10" width="3.50" height="1.10" fill="#000"/>
<rect x="203.55" y="664.90" width="1.10" height="3.50" fill="#000"/>
<rect x="213.05" y="666.10" width="3.50" height="1.10" fill="#000"/>
<rect x="214.25" y="664.90" width="1.10" height="3.50" fill="#000"/>
<rect x="223.65" y="666.10" width="3.50" height="1.10" fill="#000"/>
<rect x="224.85" y="664.90" width="1.10" height="3.50" fill="#000"/>
<rect x="234.35" y="666.10" width="3.50" height="1.10" fill="#000"/>
<rect x="235.55" y="664.90" width="1.10" height="3.50" fill="#000"/>
<rect x="245.05" y="666.10" width="3.50" height="1.10" fill="#000"/>
<rect x="246.25" y="664.90" width="1.10" height="3.50" fill="#000"/>
<rect x="255.75" y="666.10" width="3.50" height="1.10" fill="#000"/>
<rect x="256.95" y="664.90" width="1.10" height="3.50" fill="#000"/>
<text transform="translate(185.30,677.80) scale(0.9569,1)" font-size="5.277" text-anchor="end" fill="#111" stroke="#111" stroke-width="0.12">CNA data</text>
<rect x="191.65" y="675.55" width="3.50" height="1.10" fill="#000"/>
<rect x="192.85" y="674.35" width="1.10" height="3.50" fill="#000"/>
<rect x="202.35" y="675.55" width="3.50" height="1.10" fill="#000"/>
<rect x="203.55" y="674.35" width="1.10" height="3.50" fill="#000"/>
<rect x="213.05" y="675.55" width="3.50" height="1.10" fill="#000"/>
<rect x="214.25" y="674.35" width="1.10" height="3.50" fill="#000"/>
<rect x="223.65" y="675.55" width="3.50" height="1.10" fill="#000"/>
<rect x="224.85" y="674.35" width="1.10" height="3.50" fill="#000"/>
<rect x="234.35" y="675.55" width="3.50" height="1.10" fill="#000"/>
<rect x="235.55" y="674.35" width="1.10" height="3.50" fill="#000"/>
<rect x="245.05" y="675.55" width="3.50" height="1.10" fill="#000"/>
<rect x="246.25" y="674.35" width="1.10" height="3.50" fill="#000"/>
<rect x="255.75" y="675.55" width="3.50" height="1.10" fill="#000"/>
<rect x="256.95" y="674.35" width="1.10" height="3.50" fill="#000"/>
<text transform="translate(166.00,587.40) rotate(-90)" font-size="8.15" text-anchor="middle" fill="#111">Alteration Frequency</text>
<text transform="translate(189.80,687.00) rotate(50)" font-size="5.1" fill="#151515" stroke="#151515" stroke-width="0.15">Breast Invasive Cancer, NOS</text>
<text transform="translate(200.50,687.00) rotate(50)" font-size="5.1" fill="#151515" stroke="#151515" stroke-width="0.15">Breast Invasive Carcinoma (NOS)</text>
<text transform="translate(211.20,687.00) rotate(50)" font-size="5.1" fill="#151515" stroke="#151515" stroke-width="0.15">Breast Mixed Ductal and Lobular Carcinoma</text>
<text transform="translate(221.80,687.00) rotate(50)" font-size="5.1" fill="#151515" stroke="#151515" stroke-width="0.15">Invasive Breast Carcinoma</text>
<text transform="translate(232.50,687.00) rotate(50)" font-size="5.1" fill="#151515" stroke="#151515" stroke-width="0.15">Breast Invasive Ductal Carcinoma</text>
<text transform="translate(243.20,687.00) rotate(50)" font-size="5.1" fill="#151515" stroke="#151515" stroke-width="0.15">Breast Invasive Lobular Carcinoma</text>
<text transform="translate(253.90,687.00) rotate(50)" font-size="5.1" fill="#151515" stroke="#151515" stroke-width="0.15">Breast</text>
<text transform="translate(378.10,533.20) scale(0.9569,1)" font-size="9.091" text-anchor="middle" fill="#111">B7-H5</text>
<line x1="347.20" y1="531.90" x2="347.20" y2="683.20" stroke="#000" stroke-width="0.85"/>
<line x1="346.80" y1="650.50" x2="442.30" y2="650.50" stroke="#000" stroke-width="0.85"/>
<line x1="346.80" y1="683.20" x2="442.30" y2="683.20" stroke="#000" stroke-width="0.85"/>
<line x1="345.30" y1="542.60" x2="347.20" y2="542.60" stroke="#000" stroke-width="0.6"/>
<text transform="translate(345.30,544.40) scale(0.9569,1)" font-size="5.225" text-anchor="end" fill="#111">40%</text>
<line x1="345.30" y1="569.50" x2="347.20" y2="569.50" stroke="#000" stroke-width="0.6"/>
<text transform="translate(345.30,571.30) scale(0.9569,1)" font-size="5.225" text-anchor="end" fill="#111">30%</text>
<line x1="345.30" y1="596.40" x2="347.20" y2="596.40" stroke="#000" stroke-width="0.6"/>
<text transform="translate(345.30,598.20) scale(0.9569,1)" font-size="5.225" text-anchor="end" fill="#111">20%</text>
<line x1="345.30" y1="623.20" x2="347.20" y2="623.20" stroke="#000" stroke-width="0.6"/>
<text transform="translate(345.30,625.00) scale(0.9569,1)" font-size="5.225" text-anchor="end" fill="#111">10%</text>
<rect x="350.20" y="540.20" width="8.20" height="100.00" fill="#e8211b"/>
<rect x="350.20" y="640.20" width="8.20" height="8.80" fill="#1d4ba3"/>
<rect x="350.20" y="649.00" width="8.20" height="1.30" fill="#8c8c8c"/>
<rect x="360.90" y="630.80" width="8.20" height="19.50" fill="#1e8449"/>
<rect x="371.70" y="631.60" width="7.90" height="18.70" fill="#e8211b"/>
<rect x="382.20" y="642.10" width="8.20" height="0.80" fill="#1e8449"/>
<rect x="382.20" y="642.90" width="8.20" height="5.40" fill="#e8211b"/>
<rect x="382.20" y="648.30" width="8.20" height="2.00" fill="#1d4ba3"/>
<rect x="392.90" y="644.50" width="8.20" height="3.80" fill="#e8211b"/>
<rect x="392.90" y="648.30" width="8.20" height="2.00" fill="#1d4ba3"/>
<rect x="403.70" y="645.60" width="7.90" height="3.40" fill="#e8211b"/>
<rect x="403.70" y="649.00" width="7.90" height="1.30" fill="#1d4ba3"/>
<rect x="414.20" y="646.90" width="8.20" height="3.40" fill="#e8211b"/>
<rect x="424.90" y="648.00" width="8.20" height="0.60" fill="#1e8449"/>
<rect x="424.90" y="648.60" width="8.20" height="0.80" fill="#e8211b"/>
<rect x="424.90" y="649.40" width="8.20" height="0.90" fill="#1d4ba3"/>
<text transform="translate(345.20,658.90) scale(0.9569,1)" font-size="5.277" text-anchor="end" fill="#111" stroke="#111" stroke-width="0.12">Structural variant data</text>
<rect x="352.15" y="656.65" width="3.50" height="1.10" fill="#000"/>
<rect x="353.35" y="655.45" width="1.10" height="3.50" fill="#000"/>
<rect x="362.85" y="656.65" width="3.50" height="1.10" fill="#000"/>
<rect x="364.05" y="655.45" width="1.10" height="3.50" fill="#000"/>
<rect x="373.55" y="656.65" width="3.50" height="1.10" fill="#000"/>
<rect x="374.75" y="655.45" width="1.10" height="3.50" fill="#000"/>
<rect x="384.25" y="656.65" width="3.50" height="1.10" fill="#000"/>
<rect x="385.45" y="655.45" width="1.10" height="3.50" fill="#000"/>
<rect x="394.95" y="656.65" width="3.50" height="1.10" fill="#000"/>
<rect x="396.15" y="655.45" width="1.10" height="3.50" fill="#000"/>
<rect x="405.65" y="656.65" width="3.50" height="1.10" fill="#000"/>
<rect x="406.85" y="655.45" width="1.10" height="3.50" fill="#000"/>
<rect x="416.40" y="656.70" width="3.40" height="1.00" fill="#000"/>
<rect x="427.05" y="656.65" width="3.50" height="1.10" fill="#000"/>
<rect x="428.25" y="655.45" width="1.10" height="3.50" fill="#000"/>
<text transform="translate(345.20,668.35) scale(0.9569,1)" font-size="5.277" text-anchor="end" fill="#111" stroke="#111" stroke-width="0.12">Mutation data</text>
<rect x="352.15" y="666.10" width="3.50" height="1.10" fill="#000"/>
<rect x="353.35" y="664.90" width="1.10" height="3.50" fill="#000"/>
<rect x="362.85" y="666.10" width="3.50" height="1.10" fill="#000"/>
<rect x="364.05" y="664.90" width="1.10" height="3.50" fill="#000"/>
<rect x="373.55" y="666.10" width="3.50" height="1.10" fill="#000"/>
<rect x="374.75" y="664.90" width="1.10" height="3.50" fill="#000"/>
<rect x="384.25" y="666.10" width="3.50" height="1.10" fill="#000"/>
<rect x="385.45" y="664.90" width="1.10" height="3.50" fill="#000"/>
<rect x="394.95" y="666.10" width="3.50" height="1.10" fill="#000"/>
<rect x="396.15" y="664.90" width="1.10" height="3.50" fill="#000"/>
<rect x="405.65" y="666.10" width="3.50" height="1.10" fill="#000"/>
<rect x="406.85" y="664.90" width="1.10" height="3.50" fill="#000"/>
<rect x="416.35" y="666.10" width="3.50" height="1.10" fill="#000"/>
<rect x="417.55" y="664.90" width="1.10" height="3.50" fill="#000"/>
<rect x="427.05" y="666.10" width="3.50" height="1.10" fill="#000"/>
<rect x="428.25" y="664.90" width="1.10" height="3.50" fill="#000"/>
<text transform="translate(345.20,677.80) scale(0.9569,1)" font-size="5.277" text-anchor="end" fill="#111" stroke="#111" stroke-width="0.12">CNA data</text>
<rect x="352.15" y="675.55" width="3.50" height="1.10" fill="#000"/>
<rect x="353.35" y="674.35" width="1.10" height="3.50" fill="#000"/>
<rect x="362.85" y="675.55" width="3.50" height="1.10" fill="#000"/>
<rect x="364.05" y="674.35" width="1.10" height="3.50" fill="#000"/>
<rect x="373.55" y="675.55" width="3.50" height="1.10" fill="#000"/>
<rect x="374.75" y="674.35" width="1.10" height="3.50" fill="#000"/>
<rect x="384.25" y="675.55" width="3.50" height="1.10" fill="#000"/>
<rect x="385.45" y="674.35" width="1.10" height="3.50" fill="#000"/>
<rect x="394.95" y="675.55" width="3.50" height="1.10" fill="#000"/>
<rect x="396.15" y="674.35" width="1.10" height="3.50" fill="#000"/>
<rect x="405.65" y="675.55" width="3.50" height="1.10" fill="#000"/>
<rect x="406.85" y="674.35" width="1.10" height="3.50" fill="#000"/>
<rect x="416.35" y="675.55" width="3.50" height="1.10" fill="#000"/>
<rect x="417.55" y="674.35" width="1.10" height="3.50" fill="#000"/>
<rect x="427.05" y="675.55" width="3.50" height="1.10" fill="#000"/>
<rect x="428.25" y="674.35" width="1.10" height="3.50" fill="#000"/>
<text transform="translate(326.70,587.40) rotate(-90)" font-size="8.15" text-anchor="middle" fill="#111">Alteration Frequency</text>
<text transform="translate(350.30,687.00) rotate(50)" font-size="5.1" fill="#151515" stroke="#151515" stroke-width="0.15">Breast Invasive Cancer, NOS</text>
<text transform="translate(361.00,687.00) rotate(50)" font-size="5.1" fill="#151515" stroke="#151515" stroke-width="0.15">Adenoid Cystic Breast Cancer</text>
<text transform="translate(371.70,687.00) rotate(50)" font-size="5.1" fill="#151515" stroke="#151515" stroke-width="0.15">Metaplastic Breast Cancer</text>
<text transform="translate(382.40,687.00) rotate(50)" font-size="5.1" fill="#151515" stroke="#151515" stroke-width="0.15">Breast Invasive Ductal Carcinoma</text>
<text transform="translate(393.10,687.00) rotate(50)" font-size="5.1" fill="#151515" stroke="#151515" stroke-width="0.15">Breast Mixed Ductal and Lobular Carcinoma</text>
<text transform="translate(403.80,687.00) rotate(50)" font-size="5.1" fill="#151515" stroke="#151515" stroke-width="0.15">Invasive Breast Carcinoma</text>
<text transform="translate(414.50,687.00) rotate(50)" font-size="5.1" fill="#151515" stroke="#151515" stroke-width="0.15">Breast</text>
<text transform="translate(425.20,687.00) rotate(50)" font-size="5.1" fill="#151515" stroke="#151515" stroke-width="0.15">Breast Invasive Lobular Carcinoma</text>
<text transform="translate(523.20,533.20) scale(0.9569,1)" font-size="9.091" text-anchor="middle" fill="#111">B7-H6</text>
<line x1="498.00" y1="531.90" x2="498.00" y2="683.20" stroke="#000" stroke-width="0.85"/>
<line x1="497.60" y1="650.50" x2="583.70" y2="650.50" stroke="#000" stroke-width="0.85"/>
<line x1="497.60" y1="683.20" x2="583.70" y2="683.20" stroke="#000" stroke-width="0.85"/>
<line x1="496.10" y1="544.00" x2="498.00" y2="544.00" stroke="#000" stroke-width="0.6"/>
<text transform="translate(496.10,545.80) scale(0.9569,1)" font-size="5.225" text-anchor="end" fill="#111">40%</text>
<line x1="496.10" y1="570.40" x2="498.00" y2="570.40" stroke="#000" stroke-width="0.6"/>
<text transform="translate(496.10,572.20) scale(0.9569,1)" font-size="5.225" text-anchor="end" fill="#111">30%</text>
<line x1="496.10" y1="596.90" x2="498.00" y2="596.90" stroke="#000" stroke-width="0.6"/>
<text transform="translate(496.10,598.70) scale(0.9569,1)" font-size="5.225" text-anchor="end" fill="#111">20%</text>
<line x1="496.10" y1="623.30" x2="498.00" y2="623.30" stroke="#000" stroke-width="0.6"/>
<text transform="translate(496.10,625.10) scale(0.9569,1)" font-size="5.225" text-anchor="end" fill="#111">10%</text>
<rect x="501.00" y="540.20" width="8.20" height="73.10" fill="#e8211b"/>
<rect x="501.00" y="613.30" width="8.20" height="37.00" fill="#1d4ba3"/>
<rect x="511.70" y="643.70" width="8.00" height="5.10" fill="#e8211b"/>
<rect x="511.70" y="648.80" width="8.00" height="1.50" fill="#1d4ba3"/>
<rect x="522.20" y="644.50" width="8.20" height="4.80" fill="#e8211b"/>
<rect x="522.20" y="649.30" width="8.20" height="1.00" fill="#1d4ba3"/>
<rect x="533.00" y="645.00" width="8.20" height="0.80" fill="#1e8449"/>
<rect x="533.00" y="645.80" width="8.20" height="3.00" fill="#e8211b"/>
<rect x="533.00" y="648.80" width="8.20" height="1.50" fill="#1d4ba3"/>
<rect x="543.70" y="645.30" width="8.00" height="5.00" fill="#1e8449"/>
<rect x="554.20" y="645.60" width="8.20" height="0.40" fill="#1e8449"/>
<rect x="554.20" y="646.00" width="8.20" height="4.30" fill="#e8211b"/>
<rect x="565.00" y="646.70" width="8.20" height="3.60" fill="#e8211b"/>
<text transform="translate(495.40,658.90) scale(0.9569,1)" font-size="5.277" text-anchor="end" fill="#111" stroke="#111" stroke-width="0.12">Structural variant data</text>
<rect x="503.15" y="656.65" width="3.50" height="1.10" fill="#000"/>
<rect x="504.35" y="655.45" width="1.10" height="3.50" fill="#000"/>
<rect x="513.75" y="656.65" width="3.50" height="1.10" fill="#000"/>
<rect x="514.95" y="655.45" width="1.10" height="3.50" fill="#000"/>
<rect x="524.45" y="656.65" width="3.50" height="1.10" fill="#000"/>
<rect x="525.65" y="655.45" width="1.10" height="3.50" fill="#000"/>
<rect x="535.05" y="656.65" width="3.50" height="1.10" fill="#000"/>
<rect x="536.25" y="655.45" width="1.10" height="3.50" fill="#000"/>
<rect x="545.75" y="656.65" width="3.50" height="1.10" fill="#000"/>
<rect x="546.95" y="655.45" width="1.10" height="3.50" fill="#000"/>
<rect x="556.35" y="656.65" width="3.50" height="1.10" fill="#000"/>
<rect x="557.55" y="655.45" width="1.10" height="3.50" fill="#000"/>
<rect x="567.05" y="656.65" width="3.50" height="1.10" fill="#000"/>
<rect x="568.25" y="655.45" width="1.10" height="3.50" fill="#000"/>
<text transform="translate(495.40,668.35) scale(0.9569,1)" font-size="5.277" text-anchor="end" fill="#111" stroke="#111" stroke-width="0.12">Mutation data</text>
<rect x="503.15" y="666.10" width="3.50" height="1.10" fill="#000"/>
<rect x="504.35" y="664.90" width="1.10" height="3.50" fill="#000"/>
<rect x="513.75" y="666.10" width="3.50" height="1.10" fill="#000"/>
<rect x="514.95" y="664.90" width="1.10" height="3.50" fill="#000"/>
<rect x="524.45" y="666.10" width="3.50" height="1.10" fill="#000"/>
<rect x="525.65" y="664.90" width="1.10" height="3.50" fill="#000"/>
<rect x="535.05" y="666.10" width="3.50" height="1.10" fill="#000"/>
<rect x="536.25" y="664.90" width="1.10" height="3.50" fill="#000"/>
<rect x="545.75" y="666.10" width="3.50" height="1.10" fill="#000"/>
<rect x="546.95" y="664.90" width="1.10" height="3.50" fill="#000"/>
<rect x="556.35" y="666.10" width="3.50" height="1.10" fill="#000"/>
<rect x="557.55" y="664.90" width="1.10" height="3.50" fill="#000"/>
<rect x="567.05" y="666.10" width="3.50" height="1.10" fill="#000"/>
<rect x="568.25" y="664.90" width="1.10" height="3.50" fill="#000"/>
<text transform="translate(495.40,677.80) scale(0.9569,1)" font-size="5.277" text-anchor="end" fill="#111" stroke="#111" stroke-width="0.12">CNA data</text>
<rect x="503.15" y="675.55" width="3.50" height="1.10" fill="#000"/>
<rect x="504.35" y="674.35" width="1.10" height="3.50" fill="#000"/>
<rect x="513.75" y="675.55" width="3.50" height="1.10" fill="#000"/>
<rect x="514.95" y="674.35" width="1.10" height="3.50" fill="#000"/>
<rect x="524.45" y="675.55" width="3.50" height="1.10" fill="#000"/>
<rect x="525.65" y="674.35" width="1.10" height="3.50" fill="#000"/>
<rect x="535.05" y="675.55" width="3.50" height="1.10" fill="#000"/>
<rect x="536.25" y="674.35" width="1.10" height="3.50" fill="#000"/>
<rect x="545.75" y="675.55" width="3.50" height="1.10" fill="#000"/>
<rect x="546.95" y="674.35" width="1.10" height="3.50" fill="#000"/>
<rect x="556.35" y="675.55" width="3.50" height="1.10" fill="#000"/>
<rect x="557.55" y="674.35" width="1.10" height="3.50" fill="#000"/>
<rect x="567.05" y="675.55" width="3.50" height="1.10" fill="#000"/>
<rect x="568.25" y="674.35" width="1.10" height="3.50" fill="#000"/>
<text transform="translate(476.70,587.40) rotate(-90)" font-size="8.15" text-anchor="middle" fill="#111">Alteration Frequency</text>
<text transform="translate(501.30,687.00) rotate(50)" font-size="5.1" fill="#151515" stroke="#151515" stroke-width="0.15">Breast Invasive Cancer, NOS</text>
<text transform="translate(511.90,687.00) rotate(50)" font-size="5.1" fill="#151515" stroke="#151515" stroke-width="0.15">Breast Invasive Ductal Carcinoma</text>
<text transform="translate(522.60,687.00) rotate(50)" font-size="5.1" fill="#151515" stroke="#151515" stroke-width="0.15">Breast Mixed Ductal and Lobular Carcinoma</text>
<text transform="translate(533.20,687.00) rotate(50)" font-size="5.1" fill="#151515" stroke="#151515" stroke-width="0.15">Breast Invasive Lobular Carcinoma</text>
<text transform="translate(543.90,687.00) rotate(50)" font-size="5.1" fill="#151515" stroke="#151515" stroke-width="0.15">Breast Invasive Mixed Mucinous Carcinoma</text>
<text transform="translate(554.50,687.00) rotate(50)" font-size="5.1" fill="#151515" stroke="#151515" stroke-width="0.15">Invasive Breast Carcinoma</text>
<text transform="translate(565.20,687.00) rotate(50)" font-size="5.1" fill="#151515" stroke="#151515" stroke-width="0.15">Breast Invasive Carcinoma (NOS)</text>
<text transform="translate(655.20,533.20) scale(0.9569,1)" font-size="9.091" text-anchor="middle" fill="#111">B7-H7</text>
<line x1="640.60" y1="532.20" x2="640.60" y2="683.20" stroke="#000" stroke-width="0.85"/>
<line x1="640.20" y1="650.50" x2="702.20" y2="650.50" stroke="#000" stroke-width="0.85"/>
<line x1="640.20" y1="683.20" x2="702.20" y2="683.20" stroke="#000" stroke-width="0.85"/>
<line x1="638.70" y1="534.20" x2="640.60" y2="534.20" stroke="#000" stroke-width="0.6"/>
<text transform="translate(638.70,536.00) scale(0.9569,1)" font-size="5.225" text-anchor="end" fill="#111">6%</text>
<line x1="638.70" y1="553.50" x2="640.60" y2="553.50" stroke="#000" stroke-width="0.6"/>
<text transform="translate(638.70,555.30) scale(0.9569,1)" font-size="5.225" text-anchor="end" fill="#111">5%</text>
<line x1="638.70" y1="572.80" x2="640.60" y2="572.80" stroke="#000" stroke-width="0.6"/>
<text transform="translate(638.70,574.60) scale(0.9569,1)" font-size="5.225" text-anchor="end" fill="#111">4%</text>
<line x1="638.70" y1="592.10" x2="640.60" y2="592.10" stroke="#000" stroke-width="0.6"/>
<text transform="translate(638.70,593.90) scale(0.9569,1)" font-size="5.225" text-anchor="end" fill="#111">3%</text>
<line x1="638.70" y1="611.40" x2="640.60" y2="611.40" stroke="#000" stroke-width="0.6"/>
<text transform="translate(638.70,613.20) scale(0.9569,1)" font-size="5.225" text-anchor="end" fill="#111">2%</text>
<line x1="638.70" y1="630.70" x2="640.60" y2="630.70" stroke="#000" stroke-width="0.6"/>
<text transform="translate(638.70,632.50) scale(0.9569,1)" font-size="5.225" text-anchor="end" fill="#111">1%</text>
<rect x="643.90" y="540.10" width="8.30" height="9.90" fill="#1e8449"/>
<rect x="643.90" y="550.00" width="8.30" height="30.20" fill="#e8211b"/>
<rect x="643.90" y="580.20" width="8.30" height="70.10" fill="#1d4ba3"/>
<rect x="654.50" y="620.30" width="8.30" height="5.90" fill="#1e8449"/>
<rect x="654.50" y="626.20" width="8.30" height="18.80" fill="#e8211b"/>
<rect x="654.50" y="645.00" width="8.30" height="4.20" fill="#1d4ba3"/>
<rect x="654.50" y="649.20" width="8.30" height="1.10" fill="#8c8c8c"/>
<rect x="665.20" y="623.20" width="8.30" height="1.30" fill="#1e8449"/>
<rect x="665.20" y="624.50" width="8.30" height="22.00" fill="#e8211b"/>
<rect x="665.20" y="646.50" width="8.30" height="3.80" fill="#1d4ba3"/>
<rect x="675.80" y="625.20" width="8.30" height="9.90" fill="#e8211b"/>
<rect x="675.80" y="635.10" width="8.30" height="15.20" fill="#1d4ba3"/>
<rect x="686.40" y="645.00" width="8.40" height="5.30" fill="#e8211b"/>
<text transform="translate(640.30,658.90) scale(0.9569,1)" font-size="5.277" text-anchor="end" fill="#111" stroke="#111" stroke-width="0.12">Structural variant data</text>
<rect x="646.05" y="656.65" width="3.50" height="1.10" fill="#000"/>
<rect x="647.25" y="655.45" width="1.10" height="3.50" fill="#000"/>
<rect x="656.65" y="656.65" width="3.50" height="1.10" fill="#000"/>
<rect x="657.85" y="655.45" width="1.10" height="3.50" fill="#000"/>
<rect x="667.35" y="656.65" width="3.50" height="1.10" fill="#000"/>
<rect x="668.55" y="655.45" width="1.10" height="3.50" fill="#000"/>
<rect x="677.95" y="656.65" width="3.50" height="1.10" fill="#000"/>
<rect x="679.15" y="655.45" width="1.10" height="3.50" fill="#000"/>
<rect x="688.55" y="656.65" width="3.50" height="1.10" fill="#000"/>
<rect x="689.75" y="655.45" width="1.10" height="3.50" fill="#000"/>
<text transform="translate(640.30,668.35) scale(0.9569,1)" font-size="5.277" text-anchor="end" fill="#111" stroke="#111" stroke-width="0.12">Mutation data</text>
<rect x="646.05" y="666.10" width="3.50" height="1.10" fill="#000"/>
<rect x="647.25" y="664.90" width="1.10" height="3.50" fill="#000"/>
<rect x="656.65" y="666.10" width="3.50" height="1.10" fill="#000"/>
<rect x="657.85" y="664.90" width="1.10" height="3.50" fill="#000"/>
<rect x="667.35" y="666.10" width="3.50" height="1.10" fill="#000"/>
<rect x="668.55" y="664.90" width="1.10" height="3.50" fill="#000"/>
<rect x="677.95" y="666.10" width="3.50" height="1.10" fill="#000"/>
<rect x="679.15" y="664.90" width="1.10" height="3.50" fill="#000"/>
<rect x="688.55" y="666.10" width="3.50" height="1.10" fill="#000"/>
<rect x="689.75" y="664.90" width="1.10" height="3.50" fill="#000"/>
<text transform="translate(640.30,677.80) scale(0.9569,1)" font-size="5.277" text-anchor="end" fill="#111" stroke="#111" stroke-width="0.12">CNA data</text>
<rect x="646.05" y="675.55" width="3.50" height="1.10" fill="#000"/>
<rect x="647.25" y="674.35" width="1.10" height="3.50" fill="#000"/>
<rect x="656.65" y="675.55" width="3.50" height="1.10" fill="#000"/>
<rect x="657.85" y="674.35" width="1.10" height="3.50" fill="#000"/>
<rect x="667.35" y="675.55" width="3.50" height="1.10" fill="#000"/>
<rect x="668.55" y="674.35" width="1.10" height="3.50" fill="#000"/>
<rect x="677.95" y="675.55" width="3.50" height="1.10" fill="#000"/>
<rect x="679.15" y="674.35" width="1.10" height="3.50" fill="#000"/>
<rect x="688.55" y="675.55" width="3.50" height="1.10" fill="#000"/>
<rect x="689.75" y="674.35" width="1.10" height="3.50" fill="#000"/>
<text transform="translate(616.80,587.40) rotate(-90)" font-size="8.15" text-anchor="middle" fill="#111">Alteration Frequency</text>
<text transform="translate(644.20,687.00) rotate(50)" font-size="5.1" fill="#151515" stroke="#151515" stroke-width="0.15">Breast Invasive Cancer, NOS</text>
<text transform="translate(654.80,687.00) rotate(50)" font-size="5.1" fill="#151515" stroke="#151515" stroke-width="0.15">Breast Invasive Ductal Carcinoma</text>
<text transform="translate(665.50,687.00) rotate(50)" font-size="5.1" fill="#151515" stroke="#151515" stroke-width="0.15">Invasive Breast Carcinoma</text>
<text transform="translate(676.10,687.00) rotate(50)" font-size="5.1" fill="#151515" stroke="#151515" stroke-width="0.15">Breast Mixed Ductal and Lobular Carcinoma</text>
<text transform="translate(686.70,687.00) rotate(50)" font-size="5.1" fill="#151515" stroke="#151515" stroke-width="0.15">Breast Invasive Lobular Carcinoma</text>
<rect x="415.60" y="776.50" width="2.60" height="1.40" fill="#1e8449"/>
<text transform="translate(424.20,779.00) scale(0.9569,1)" font-size="8.517" text-anchor="start" fill="#1a1a1a" style="font-kerning:none">Mutation</text>
<rect x="461.70" y="776.50" width="2.60" height="1.40" fill="#2a2a8a"/>
<text transform="translate(470.10,779.00) scale(0.9569,1)" font-size="8.517" text-anchor="start" fill="#1a1a1a" style="font-kerning:none">Structural Variant</text>
<rect x="538.30" y="776.50" width="2.60" height="1.40" fill="#e8211b"/>
<text transform="translate(546.40,779.00) scale(0.9569,1)" font-size="8.517" text-anchor="start" fill="#1a1a1a" style="font-kerning:none">Amplification</text>
<rect x="596.70" y="776.50" width="2.60" height="1.40" fill="#1d4ba3"/>
<text transform="translate(605.50,779.00) scale(0.9569,1)" font-size="8.517" text-anchor="start" fill="#1a1a1a" style="font-kerning:none">Deep Deletion</text>
<rect x="660.00" y="776.50" width="2.60" height="1.40" fill="#888"/>
<text transform="translate(668.80,779.00) scale(0.9569,1)" font-size="8.517" text-anchor="start" fill="#1a1a1a" style="font-kerning:none">Multiple Alterations</text>
<text transform="translate(0.90,810.50) scale(0.9569,1)" font-size="25.916" text-anchor="start" fill="#111">C</text>
<text transform="translate(21.00,838.30) scale(0.9569,1)" font-size="10.032" text-anchor="start" fill="#1a1a1a">B7-1</text>
<line x1="172.20" y1="822.50" x2="172.20" y2="833.30" stroke="#8e908c" stroke-width="0.55"/>
<circle cx="172.20" cy="822.10" r="0.95" fill="#2f9e3a"/>
<line x1="223.00" y1="822.50" x2="223.00" y2="833.30" stroke="#c4c6c0" stroke-width="1.0"/>
<circle cx="223.00" cy="822.10" r="0.95" fill="#2f9e3a"/>
<text transform="translate(223.00,819.60) scale(0.9569,1)" font-size="4.232" text-anchor="middle" fill="#1a1a1a">S165F</text>
<rect x="55.80" y="833.30" width="292.10" height="4.80" fill="#bdbfb8"/>
<rect x="93.80" y="831.50" width="91.80" height="8.4" fill="#3fb234" rx="0.6"/>
<text transform="translate(139.70,837.10) scale(0.9569,1)" font-size="4.232" text-anchor="middle" fill="#ffffff">V-set</text>
<rect x="201.00" y="831.50" width="83.80" height="8.4" fill="#e8505b" rx="0.6"/>
<text transform="translate(242.90,837.10) scale(0.9569,1)" font-size="4.232" text-anchor="middle" fill="#ffffff">C2-set_2</text>
<line x1="55.80" y1="841.50" x2="347.90" y2="841.50" stroke="#b0b0b0" stroke-width="0.5"/>
<line x1="55.80" y1="841.50" x2="55.80" y2="843.70" stroke="#999" stroke-width="0.5"/>
<text transform="translate(55.80,846.80) scale(0.9569,1)" font-size="4.180" text-anchor="middle" fill="#222">0</text>
<line x1="106.60" y1="841.50" x2="106.60" y2="843.70" stroke="#999" stroke-width="0.5"/>
<line x1="157.50" y1="841.50" x2="157.50" y2="843.70" stroke="#999" stroke-width="0.5"/>
<text transform="translate(157.50,846.80) scale(0.9569,1)" font-size="4.180" text-anchor="middle" fill="#222">100</text>
<line x1="207.50" y1="841.50" x2="207.50" y2="843.70" stroke="#999" stroke-width="0.5"/>
<line x1="258.30" y1="841.50" x2="258.30" y2="843.70" stroke="#999" stroke-width="0.5"/>
<text transform="translate(258.30,846.80) scale(0.9569,1)" font-size="4.180" text-anchor="middle" fill="#222">200</text>
<line x1="309.30" y1="841.50" x2="309.30" y2="843.70" stroke="#999" stroke-width="0.5"/>
<line x1="347.90" y1="841.50" x2="347.90" y2="843.70" stroke="#999" stroke-width="0.5"/>
<text transform="translate(349.40,846.80) scale(0.9569,1)" font-size="4.180" text-anchor="middle" fill="#222">288aa</text>
<text transform="translate(21.00,878.30) scale(0.9569,1)" font-size="10.032" text-anchor="start" fill="#1a1a1a">B7-2</text>
<rect x="88.70" y="862.70" width="2.00" height="10.60" fill="#d2d4cf"/>
<rect x="87.70" y="860.90" width="4.00" height="1.80" fill="#4f9a5a"/>
<line x1="178.40" y1="862.50" x2="178.40" y2="873.30" stroke="#8e908c" stroke-width="0.55"/>
<circle cx="178.40" cy="862.10" r="0.95" fill="#2f9e3a"/>
<line x1="189.00" y1="862.50" x2="189.00" y2="873.30" stroke="#8e908c" stroke-width="0.55"/>
<circle cx="189.00" cy="862.10" r="0.95" fill="#2f6f4f"/>
<line x1="202.30" y1="862.50" x2="202.30" y2="873.30" stroke="#c4c6c0" stroke-width="1.0"/>
<circle cx="202.30" cy="862.10" r="0.95" fill="#2f9e3a"/>
<text transform="translate(202.30,859.60) scale(0.9569,1)" font-size="4.232" text-anchor="middle" fill="#1a1a1a">E168K</text>
<line x1="245.50" y1="862.50" x2="245.50" y2="873.30" stroke="#8e908c" stroke-width="0.55"/>
<circle cx="245.50" cy="862.10" r="0.95" fill="#2f9e3a"/>
<line x1="267.50" y1="862.50" x2="267.50" y2="873.30" stroke="#8e908c" stroke-width="0.55"/>
<circle cx="267.50" cy="862.10" r="0.95" fill="#2f9e3a"/>
<line x1="307.50" y1="862.50" x2="307.50" y2="873.30" stroke="#8e908c" stroke-width="0.55"/>
<circle cx="307.50" cy="862.10" r="0.95" fill="#2f9e3a"/>
<line x1="320.80" y1="862.50" x2="320.80" y2="873.30" stroke="#8e908c" stroke-width="0.55"/>
<circle cx="320.80" cy="862.10" r="0.95" fill="#2f6f4f"/>
<rect x="55.80" y="873.30" width="292.10" height="4.80" fill="#bdbfb8"/>
<rect x="82.80" y="871.50" width="79.00" height="8.4" fill="#3fb234" rx="0.6"/>
<text transform="translate(122.30,877.10) scale(0.9569,1)" font-size="4.232" text-anchor="middle" fill="#ffffff">I-set</text>
<rect x="184.50" y="871.50" width="78.60" height="8.4" fill="#e8505b" rx="0.6"/>
<text transform="translate(223.80,877.10) scale(0.9569,1)" font-size="4.232" text-anchor="middle" fill="#ffffff">Ig_2</text>
<line x1="55.80" y1="881.50" x2="347.90" y2="881.50" stroke="#b0b0b0" stroke-width="0.5"/>
<line x1="55.80" y1="881.50" x2="55.80" y2="883.70" stroke="#999" stroke-width="0.5"/>
<text transform="translate(55.80,886.80) scale(0.9569,1)" font-size="4.180" text-anchor="middle" fill="#222">0</text>
<line x1="100.40" y1="881.50" x2="100.40" y2="883.70" stroke="#999" stroke-width="0.5"/>
<line x1="144.80" y1="881.50" x2="144.80" y2="883.70" stroke="#999" stroke-width="0.5"/>
<text transform="translate(144.80,886.80) scale(0.9569,1)" font-size="4.180" text-anchor="middle" fill="#222">100</text>
<line x1="189.00" y1="881.50" x2="189.00" y2="883.70" stroke="#999" stroke-width="0.5"/>
<line x1="233.40" y1="881.50" x2="233.40" y2="883.70" stroke="#999" stroke-width="0.5"/>
<text transform="translate(233.40,886.80) scale(0.9569,1)" font-size="4.180" text-anchor="middle" fill="#222">200</text>
<line x1="277.70" y1="881.50" x2="277.70" y2="883.70" stroke="#999" stroke-width="0.5"/>
<line x1="322.00" y1="881.50" x2="322.00" y2="883.70" stroke="#999" stroke-width="0.5"/>
<line x1="347.90" y1="881.50" x2="347.90" y2="883.70" stroke="#999" stroke-width="0.5"/>
<text transform="translate(349.40,886.80) scale(0.9569,1)" font-size="4.180" text-anchor="middle" fill="#222">329aa</text>
<text transform="translate(17.50,918.30) scale(0.9569,1)" font-size="10.032" text-anchor="start" fill="#1a1a1a">B7-H1</text>
<line x1="74.30" y1="902.50" x2="74.30" y2="913.30" stroke="#8e908c" stroke-width="0.55"/>
<circle cx="74.30" cy="902.10" r="0.95" fill="#c9a038"/>
<line x1="77.50" y1="902.50" x2="77.50" y2="913.30" stroke="#8e908c" stroke-width="0.55"/>
<circle cx="77.50" cy="902.10" r="0.95" fill="#2f9e3a"/>
<line x1="92.50" y1="902.50" x2="92.50" y2="913.30" stroke="#8e908c" stroke-width="0.55"/>
<circle cx="92.50" cy="902.10" r="0.95" fill="#2f9e3a"/>
<line x1="202.00" y1="902.50" x2="202.00" y2="913.30" stroke="#8e908c" stroke-width="0.55"/>
<circle cx="202.00" cy="902.10" r="0.95" fill="#2f9e3a"/>
<line x1="214.80" y1="902.50" x2="214.80" y2="913.30" stroke="#c4c6c0" stroke-width="1.0"/>
<circle cx="214.80" cy="902.10" r="0.95" fill="#2f9e3a"/>
<text transform="translate(214.80,899.60) scale(0.9569,1)" font-size="4.232" text-anchor="middle" fill="#1a1a1a">E158K</text>
<line x1="220.50" y1="902.50" x2="220.50" y2="913.30" stroke="#8e908c" stroke-width="0.55"/>
<circle cx="220.50" cy="902.10" r="0.95" fill="#2f9e3a"/>
<line x1="250.80" y1="902.50" x2="250.80" y2="913.30" stroke="#8e908c" stroke-width="0.55"/>
<circle cx="250.80" cy="902.10" r="0.95" fill="#c9a038"/>
<line x1="254.80" y1="902.50" x2="254.80" y2="913.30" stroke="#8e908c" stroke-width="0.55"/>
<circle cx="254.80" cy="902.10" r="0.95" fill="#2f9e3a"/>
<line x1="285.00" y1="902.50" x2="285.00" y2="913.30" stroke="#8e908c" stroke-width="0.55"/>
<circle cx="285.00" cy="902.10" r="0.95" fill="#c9a038"/>
<line x1="333.30" y1="902.50" x2="333.30" y2="913.30" stroke="#8e908c" stroke-width="0.55"/>
<circle cx="333.30" cy="902.10" r="0.95" fill="#2f9e3a"/>
<rect x="55.80" y="913.30" width="292.10" height="4.80" fill="#bdbfb8"/>
<rect x="76.00" y="911.50" width="104.00" height="8.4" fill="#3fb234" rx="0.6"/>
<text transform="translate(128.00,917.10) scale(0.9569,1)" font-size="4.232" text-anchor="middle" fill="#ffffff">V-set</text>
<rect x="205.00" y="911.50" width="70.00" height="8.4" fill="#e8505b" rx="0.6"/>
<text transform="translate(240.00,917.10) scale(0.9569,1)" font-size="4.232" text-anchor="middle" fill="#ffffff">C2-set_2</text>
<line x1="55.80" y1="921.50" x2="347.90" y2="921.50" stroke="#b0b0b0" stroke-width="0.5"/>
<line x1="55.80" y1="921.50" x2="55.80" y2="923.70" stroke="#999" stroke-width="0.5"/>
<text transform="translate(55.80,926.80) scale(0.9569,1)" font-size="4.180" text-anchor="middle" fill="#222">0</text>
<line x1="106.40" y1="921.50" x2="106.40" y2="923.70" stroke="#999" stroke-width="0.5"/>
<line x1="156.80" y1="921.50" x2="156.80" y2="923.70" stroke="#999" stroke-width="0.5"/>
<text transform="translate(156.80,926.80) scale(0.9569,1)" font-size="4.180" text-anchor="middle" fill="#222">100</text>
<line x1="207.00" y1="921.50" x2="207.00" y2="923.70" stroke="#999" stroke-width="0.5"/>
<line x1="257.50" y1="921.50" x2="257.50" y2="923.70" stroke="#999" stroke-width="0.5"/>
<text transform="translate(257.50,926.80) scale(0.9569,1)" font-size="4.180" text-anchor="middle" fill="#222">200</text>
<line x1="308.00" y1="921.50" x2="308.00" y2="923.70" stroke="#999" stroke-width="0.5"/>
<line x1="347.90" y1="921.50" x2="347.90" y2="923.70" stroke="#999" stroke-width="0.5"/>
<text transform="translate(349.40,926.80) scale(0.9569,1)" font-size="4.180" text-anchor="middle" fill="#222">290aa</text>
<text transform="translate(17.00,958.50) scale(0.9569,1)" font-size="10.032" text-anchor="start" fill="#1a1a1a">B7-DC</text>
<line x1="62.50" y1="942.70" x2="62.50" y2="953.50" stroke="#8e908c" stroke-width="0.55"/>
<circle cx="62.50" cy="942.30" r="0.95" fill="#2f9e3a"/>
<line x1="76.50" y1="942.70" x2="76.50" y2="953.50" stroke="#8e908c" stroke-width="0.55"/>
<circle cx="76.50" cy="942.30" r="0.95" fill="#c9a038"/>
<line x1="146.80" y1="942.70" x2="146.80" y2="953.50" stroke="#c4c6c0" stroke-width="1.0"/>
<circle cx="146.80" cy="942.30" r="0.95" fill="#2f9e3a"/>
<text transform="translate(146.80,939.80) scale(0.9569,1)" font-size="4.232" text-anchor="middle" fill="#1a1a1a">A89G</text>
<line x1="302.30" y1="942.70" x2="302.30" y2="953.50" stroke="#8e908c" stroke-width="0.55"/>
<circle cx="302.30" cy="942.30" r="0.95" fill="#2f9e3a"/>
<rect x="55.80" y="953.50" width="292.10" height="4.80" fill="#bdbfb8"/>
<rect x="89.30" y="951.70" width="80.20" height="8.4" fill="#3fb234" rx="0.6"/>
<text transform="translate(129.40,957.30) scale(0.9569,1)" font-size="4.232" text-anchor="middle" fill="#ffffff">Ig_3</text>
<rect x="190.50" y="951.70" width="74.50" height="8.4" fill="#e8505b" rx="0.6"/>
<text transform="translate(227.75,957.30) scale(0.9569,1)" font-size="4.232" text-anchor="middle" fill="#ffffff">Ig_2</text>
<line x1="55.80" y1="961.70" x2="347.90" y2="961.70" stroke="#b0b0b0" stroke-width="0.5"/>
<line x1="55.80" y1="961.70" x2="55.80" y2="963.90" stroke="#999" stroke-width="0.5"/>
<text transform="translate(55.80,967.00) scale(0.9569,1)" font-size="4.180" text-anchor="middle" fill="#222">0</text>
<line x1="109.50" y1="961.70" x2="109.50" y2="963.90" stroke="#999" stroke-width="0.5"/>
<line x1="163.20" y1="961.70" x2="163.20" y2="963.90" stroke="#999" stroke-width="0.5"/>
<text transform="translate(163.20,967.00) scale(0.9569,1)" font-size="4.180" text-anchor="middle" fill="#222">100</text>
<line x1="216.40" y1="961.70" x2="216.40" y2="963.90" stroke="#999" stroke-width="0.5"/>
<line x1="270.00" y1="961.70" x2="270.00" y2="963.90" stroke="#999" stroke-width="0.5"/>
<text transform="translate(270.00,967.00) scale(0.9569,1)" font-size="4.180" text-anchor="middle" fill="#222">200</text>
<line x1="323.00" y1="961.70" x2="323.00" y2="963.90" stroke="#999" stroke-width="0.5"/>
<line x1="347.90" y1="961.70" x2="347.90" y2="963.90" stroke="#999" stroke-width="0.5"/>
<text transform="translate(349.40,967.00) scale(0.9569,1)" font-size="4.180" text-anchor="middle" fill="#222">273aa</text>
<text transform="translate(17.50,999.40) scale(0.9569,1)" font-size="10.032" text-anchor="start" fill="#1a1a1a">B7-H2</text>
<line x1="76.30" y1="983.60" x2="76.30" y2="994.40" stroke="#8e908c" stroke-width="0.55"/>
<circle cx="76.30" cy="983.20" r="0.95" fill="#2f9e3a"/>
<line x1="94.80" y1="983.60" x2="94.80" y2="994.40" stroke="#8e908c" stroke-width="0.55"/>
<circle cx="94.80" cy="983.20" r="0.95" fill="#2f9e3a"/>
<line x1="99.50" y1="983.60" x2="99.50" y2="994.40" stroke="#8e908c" stroke-width="0.55"/>
<circle cx="99.50" cy="983.20" r="0.95" fill="#2f9e3a"/>
<line x1="135.00" y1="976.10" x2="135.00" y2="994.40" stroke="#c4c6c0" stroke-width="1.0"/>
<circle cx="135.00" cy="975.70" r="0.95" fill="#2f9e3a"/>
<text transform="translate(135.00,973.20) scale(0.9569,1)" font-size="4.232" text-anchor="middle" fill="#1a1a1a">R81Q</text>
<line x1="150.80" y1="983.60" x2="150.80" y2="994.40" stroke="#8e908c" stroke-width="0.55"/>
<circle cx="150.80" cy="983.20" r="0.95" fill="#2f9e3a"/>
<line x1="160.30" y1="983.60" x2="160.30" y2="994.40" stroke="#8e908c" stroke-width="0.55"/>
<circle cx="160.30" cy="983.20" r="0.95" fill="#2f9e3a"/>
<line x1="168.80" y1="983.60" x2="168.80" y2="994.40" stroke="#8e908c" stroke-width="0.55"/>
<circle cx="168.80" cy="983.20" r="0.95" fill="#2f9e3a"/>
<line x1="173.50" y1="983.60" x2="173.50" y2="994.40" stroke="#8e908c" stroke-width="0.55"/>
<circle cx="173.50" cy="983.20" r="0.95" fill="#c9a038"/>
<line x1="198.80" y1="983.60" x2="198.80" y2="994.40" stroke="#8e908c" stroke-width="0.55"/>
<circle cx="198.80" cy="983.20" r="0.95" fill="#2f6f4f"/>
<line x1="200.50" y1="983.60" x2="200.50" y2="994.40" stroke="#8e908c" stroke-width="0.55"/>
<circle cx="200.50" cy="983.20" r="0.95" fill="#2f9e3a"/>
<line x1="204.50" y1="983.60" x2="204.50" y2="994.40" stroke="#8e908c" stroke-width="0.55"/>
<circle cx="204.50" cy="983.20" r="0.95" fill="#2f9e3a"/>
<line x1="260.30" y1="983.60" x2="260.30" y2="994.40" stroke="#8e908c" stroke-width="0.55"/>
<circle cx="260.30" cy="983.20" r="0.95" fill="#2f9e3a"/>
<line x1="276.80" y1="983.60" x2="276.80" y2="994.40" stroke="#8e908c" stroke-width="0.55"/>
<circle cx="276.80" cy="983.20" r="0.95" fill="#2f9e3a"/>
<line x1="281.50" y1="983.60" x2="281.50" y2="994.40" stroke="#8e908c" stroke-width="0.55"/>
<circle cx="281.50" cy="983.20" r="0.95" fill="#2f6f4f"/>
<line x1="286.50" y1="983.60" x2="286.50" y2="994.40" stroke="#8e908c" stroke-width="0.55"/>
<circle cx="286.50" cy="983.20" r="0.95" fill="#2f6f4f"/>
<line x1="349.00" y1="983.60" x2="349.00" y2="994.40" stroke="#8e908c" stroke-width="0.55"/>
<circle cx="349.00" cy="983.20" r="0.95" fill="#2f6f4f"/>
<rect x="56.50" y="994.40" width="291.70" height="4.80" fill="#bdbfb8"/>
<rect x="76.00" y="992.60" width="100.80" height="8.4" fill="#3fb234" rx="0.6"/>
<text transform="translate(126.40,998.20) scale(0.9569,1)" font-size="4.232" text-anchor="middle" fill="#ffffff">V-set</text>
<rect x="202.50" y="992.60" width="70.50" height="8.4" fill="#e8505b" rx="0.6"/>
<text transform="translate(237.75,998.20) scale(0.9569,1)" font-size="4.232" text-anchor="middle" fill="#ffffff">C2-set_2</text>
<line x1="56.50" y1="1002.60" x2="348.20" y2="1002.60" stroke="#b0b0b0" stroke-width="0.5"/>
<line x1="56.50" y1="1002.60" x2="56.50" y2="1004.80" stroke="#999" stroke-width="0.5"/>
<text transform="translate(56.50,1007.90) scale(0.9569,1)" font-size="4.180" text-anchor="middle" fill="#222">0</text>
<line x1="105.00" y1="1002.60" x2="105.00" y2="1004.80" stroke="#999" stroke-width="0.5"/>
<line x1="153.50" y1="1002.60" x2="153.50" y2="1004.80" stroke="#999" stroke-width="0.5"/>
<text transform="translate(153.50,1007.90) scale(0.9569,1)" font-size="4.180" text-anchor="middle" fill="#222">100</text>
<line x1="202.00" y1="1002.60" x2="202.00" y2="1004.80" stroke="#999" stroke-width="0.5"/>
<line x1="250.80" y1="1002.60" x2="250.80" y2="1004.80" stroke="#999" stroke-width="0.5"/>
<text transform="translate(250.80,1007.90) scale(0.9569,1)" font-size="4.180" text-anchor="middle" fill="#222">200</text>
<line x1="299.50" y1="1002.60" x2="299.50" y2="1004.80" stroke="#999" stroke-width="0.5"/>
<line x1="348.20" y1="1002.60" x2="348.20" y2="1004.80" stroke="#999" stroke-width="0.5"/>
<text transform="translate(349.70,1007.90) scale(0.9569,1)" font-size="4.180" text-anchor="middle" fill="#222">302aa</text>
<text transform="translate(395.80,838.30) scale(0.9569,1)" font-size="10.032" text-anchor="start" fill="#1a1a1a">B7-H3</text>
<line x1="435.30" y1="822.50" x2="435.30" y2="833.30" stroke="#8e908c" stroke-width="0.55"/>
<circle cx="435.30" cy="822.10" r="0.95" fill="#2f9e3a"/>
<line x1="482.50" y1="822.50" x2="482.50" y2="833.30" stroke="#8e908c" stroke-width="0.55"/>
<circle cx="482.50" cy="822.10" r="0.95" fill="#2f9e3a"/>
<line x1="539.80" y1="822.50" x2="539.80" y2="833.30" stroke="#8e908c" stroke-width="0.55"/>
<circle cx="539.80" cy="822.10" r="0.95" fill="#2f9e3a"/>
<line x1="557.50" y1="822.50" x2="557.50" y2="833.30" stroke="#8e908c" stroke-width="0.55"/>
<circle cx="557.50" cy="822.10" r="0.95" fill="#2f9e3a"/>
<rect x="575.00" y="822.50" width="1.40" height="10.80" fill="#d6d8d3"/>
<circle cx="575.70" cy="822.10" r="0.95" fill="#2f9e3a"/>
<rect x="576.30" y="822.50" width="1.40" height="10.80" fill="#d6d8d3"/>
<circle cx="577.00" cy="822.10" r="0.95" fill="#2f9e3a"/>
<rect x="577.60" y="822.50" width="1.40" height="10.80" fill="#d6d8d3"/>
<circle cx="578.30" cy="822.10" r="0.95" fill="#2f9e3a"/>
<text transform="translate(579.40,819.60) scale(0.9569,1)" font-size="4.232" text-anchor="middle" fill="#1a1a1a">R267H</text>
<rect x="581.10" y="822.50" width="1.40" height="10.80" fill="#d6d8d3"/>
<circle cx="581.80" cy="822.10" r="0.95" fill="#2f9e3a"/>
<line x1="591.30" y1="822.50" x2="591.30" y2="833.30" stroke="#8e908c" stroke-width="0.55"/>
<circle cx="591.30" cy="822.10" r="0.95" fill="#2f9e3a"/>
<line x1="618.30" y1="822.50" x2="618.30" y2="833.30" stroke="#8e908c" stroke-width="0.55"/>
<circle cx="618.30" cy="822.10" r="0.95" fill="#2f9e3a"/>
<line x1="622.30" y1="822.50" x2="622.30" y2="833.30" stroke="#8e908c" stroke-width="0.55"/>
<circle cx="622.30" cy="822.10" r="0.95" fill="#2f9e3a"/>
<line x1="627.50" y1="822.50" x2="627.50" y2="833.30" stroke="#8e908c" stroke-width="0.55"/>
<circle cx="627.50" cy="822.10" r="0.95" fill="#2f9e3a"/>
<line x1="636.50" y1="822.50" x2="636.50" y2="833.30" stroke="#8e908c" stroke-width="0.55"/>
<circle cx="636.50" cy="822.10" r="0.95" fill="#2f9e3a"/>
<line x1="641.80" y1="822.50" x2="641.80" y2="833.30" stroke="#8e908c" stroke-width="0.55"/>
<circle cx="641.80" cy="822.10" r="0.95" fill="#2f9e3a"/>
<line x1="652.00" y1="822.50" x2="652.00" y2="833.30" stroke="#8e908c" stroke-width="0.55"/>
<circle cx="652.00" cy="822.10" r="0.95" fill="#2f9e3a"/>
<line x1="672.50" y1="822.50" x2="672.50" y2="833.30" stroke="#8e908c" stroke-width="0.55"/>
<circle cx="672.50" cy="822.10" r="0.95" fill="#2f9e3a"/>
<line x1="706.00" y1="822.50" x2="706.00" y2="833.30" stroke="#8e908c" stroke-width="0.55"/>
<circle cx="706.00" cy="822.10" r="0.95" fill="#c9a038"/>
<line x1="717.50" y1="822.50" x2="717.50" y2="833.30" stroke="#8e908c" stroke-width="0.55"/>
<circle cx="717.50" cy="822.10" r="0.95" fill="#2f9e3a"/>
<line x1="718.80" y1="822.50" x2="718.80" y2="833.30" stroke="#8e908c" stroke-width="0.55"/>
<circle cx="718.80" cy="822.10" r="0.95" fill="#2f9e3a"/>
<rect x="432.80" y="833.30" width="291.00" height="4.80" fill="#bdbfb8"/>
<rect x="449.30" y="831.50" width="52.70" height="8.4" fill="#3fb234" rx="0.6"/>
<text transform="translate(475.65,837.10) scale(0.9569,1)" font-size="4.232" text-anchor="middle" fill="#ffffff">V-set</text>
<rect x="513.30" y="831.50" width="43.70" height="8.4" fill="#e8505b" rx="0.6"/>
<text transform="translate(535.15,837.10) scale(0.9569,1)" font-size="4.232" text-anchor="middle" fill="#ffffff">C2-set_2</text>
<rect x="567.00" y="831.50" width="53.50" height="8.4" fill="#3fb234" rx="0.6"/>
<text transform="translate(593.75,837.10) scale(0.9569,1)" font-size="4.232" text-anchor="middle" fill="#ffffff">V-set</text>
<rect x="632.00" y="831.50" width="43.80" height="8.4" fill="#e8505b" rx="0.6"/>
<text transform="translate(653.90,837.10) scale(0.9569,1)" font-size="4.232" text-anchor="middle" fill="#ffffff">C2-set_2</text>
<line x1="432.80" y1="841.50" x2="723.80" y2="841.50" stroke="#b0b0b0" stroke-width="0.5"/>
<line x1="432.80" y1="841.50" x2="432.80" y2="843.70" stroke="#999" stroke-width="0.5"/>
<text transform="translate(432.80,846.80) scale(0.9569,1)" font-size="4.180" text-anchor="middle" fill="#222">0</text>
<line x1="460.00" y1="841.50" x2="460.00" y2="843.70" stroke="#999" stroke-width="0.5"/>
<line x1="487.40" y1="841.50" x2="487.40" y2="843.70" stroke="#999" stroke-width="0.5"/>
<text transform="translate(487.40,846.80) scale(0.9569,1)" font-size="4.180" text-anchor="middle" fill="#222">100</text>
<line x1="514.60" y1="841.50" x2="514.60" y2="843.70" stroke="#999" stroke-width="0.5"/>
<line x1="541.80" y1="841.50" x2="541.80" y2="843.70" stroke="#999" stroke-width="0.5"/>
<text transform="translate(541.80,846.80) scale(0.9569,1)" font-size="4.180" text-anchor="middle" fill="#222">200</text>
<line x1="569.00" y1="841.50" x2="569.00" y2="843.70" stroke="#999" stroke-width="0.5"/>
<line x1="596.30" y1="841.50" x2="596.30" y2="843.70" stroke="#999" stroke-width="0.5"/>
<text transform="translate(596.30,846.80) scale(0.9569,1)" font-size="4.180" text-anchor="middle" fill="#222">300</text>
<line x1="623.60" y1="841.50" x2="623.60" y2="843.70" stroke="#999" stroke-width="0.5"/>
<line x1="650.90" y1="841.50" x2="650.90" y2="843.70" stroke="#999" stroke-width="0.5"/>
<text transform="translate(650.90,846.80) scale(0.9569,1)" font-size="4.180" text-anchor="middle" fill="#222">400</text>
<line x1="678.00" y1="841.50" x2="678.00" y2="843.70" stroke="#999" stroke-width="0.5"/>
<line x1="705.40" y1="841.50" x2="705.40" y2="843.70" stroke="#999" stroke-width="0.5"/>
<text transform="translate(705.40,846.80) scale(0.9569,1)" font-size="4.180" text-anchor="middle" fill="#222">500</text>
<line x1="723.80" y1="841.50" x2="723.80" y2="843.70" stroke="#999" stroke-width="0.5"/>
<text transform="translate(725.30,846.80) scale(0.9569,1)" font-size="4.180" text-anchor="middle" fill="#222">534aa</text>
<text transform="translate(395.80,878.30) scale(0.9569,1)" font-size="10.032" text-anchor="start" fill="#1a1a1a">B7-H4</text>
<line x1="546.30" y1="862.50" x2="546.30" y2="873.30" stroke="#8e908c" stroke-width="0.55"/>
<circle cx="546.30" cy="862.10" r="0.95" fill="#2f9e3a"/>
<line x1="580.00" y1="862.50" x2="580.00" y2="873.30" stroke="#8e908c" stroke-width="0.55"/>
<circle cx="580.00" cy="862.10" r="0.95" fill="#2f9e3a"/>
<line x1="600.00" y1="862.50" x2="600.00" y2="873.30" stroke="#8e908c" stroke-width="0.55"/>
<circle cx="600.00" cy="862.10" r="0.95" fill="#2f9e3a"/>
<line x1="620.50" y1="862.50" x2="620.50" y2="873.30" stroke="#c4c6c0" stroke-width="1.0"/>
<circle cx="620.50" cy="862.10" r="0.95" fill="#2f9e3a"/>
<text transform="translate(620.50,859.60) scale(0.9569,1)" font-size="4.232" text-anchor="middle" fill="#1a1a1a">Q184H</text>
<line x1="661.50" y1="862.50" x2="661.50" y2="873.30" stroke="#8e908c" stroke-width="0.55"/>
<circle cx="661.50" cy="862.10" r="0.95" fill="#2f9e3a"/>
<line x1="677.00" y1="862.50" x2="677.00" y2="873.30" stroke="#8e908c" stroke-width="0.55"/>
<circle cx="677.00" cy="862.10" r="0.95" fill="#2a5aa0"/>
<line x1="679.80" y1="862.50" x2="679.80" y2="873.30" stroke="#8e908c" stroke-width="0.55"/>
<circle cx="679.80" cy="862.10" r="0.95" fill="#2f9e3a"/>
<line x1="681.00" y1="862.50" x2="681.00" y2="873.30" stroke="#8e908c" stroke-width="0.55"/>
<circle cx="681.00" cy="862.10" r="0.95" fill="#2f9e3a"/>
<line x1="702.50" y1="862.50" x2="702.50" y2="873.30" stroke="#8e908c" stroke-width="0.55"/>
<circle cx="702.50" cy="862.10" r="0.95" fill="#2f9e3a"/>
<rect x="432.80" y="873.30" width="288.50" height="4.80" fill="#bdbfb8"/>
<rect x="480.00" y="871.50" width="94.00" height="8.4" fill="#3fb234" rx="0.6"/>
<text transform="translate(527.00,877.10) scale(0.9569,1)" font-size="4.232" text-anchor="middle" fill="#ffffff">V-set</text>
<rect x="600.00" y="871.50" width="66.80" height="8.4" fill="#e8505b" rx="0.6"/>
<text transform="translate(633.40,877.10) scale(0.9569,1)" font-size="4.232" text-anchor="middle" fill="#ffffff">Ig_2</text>
<line x1="432.80" y1="881.50" x2="721.30" y2="881.50" stroke="#b0b0b0" stroke-width="0.5"/>
<line x1="432.80" y1="881.50" x2="432.80" y2="883.70" stroke="#999" stroke-width="0.5"/>
<text transform="translate(432.80,886.80) scale(0.9569,1)" font-size="4.180" text-anchor="middle" fill="#222">0</text>
<line x1="484.00" y1="881.50" x2="484.00" y2="883.70" stroke="#999" stroke-width="0.5"/>
<line x1="535.30" y1="881.50" x2="535.30" y2="883.70" stroke="#999" stroke-width="0.5"/>
<text transform="translate(535.30,886.80) scale(0.9569,1)" font-size="4.180" text-anchor="middle" fill="#222">100</text>
<line x1="586.30" y1="881.50" x2="586.30" y2="883.70" stroke="#999" stroke-width="0.5"/>
<line x1="637.50" y1="881.50" x2="637.50" y2="883.70" stroke="#999" stroke-width="0.5"/>
<text transform="translate(637.50,886.80) scale(0.9569,1)" font-size="4.180" text-anchor="middle" fill="#222">200</text>
<line x1="688.50" y1="881.50" x2="688.50" y2="883.70" stroke="#999" stroke-width="0.5"/>
<line x1="721.30" y1="881.50" x2="721.30" y2="883.70" stroke="#999" stroke-width="0.5"/>
<text transform="translate(722.80,886.80) scale(0.9569,1)" font-size="4.180" text-anchor="middle" fill="#222">282aa</text>
<text transform="translate(395.80,918.30) scale(0.9569,1)" font-size="10.032" text-anchor="start" fill="#1a1a1a">B7-H5</text>
<line x1="462.00" y1="902.50" x2="462.00" y2="913.30" stroke="#8e908c" stroke-width="0.55"/>
<circle cx="462.00" cy="902.10" r="0.95" fill="#2f9e3a"/>
<line x1="501.00" y1="902.50" x2="501.00" y2="913.30" stroke="#8e908c" stroke-width="0.55"/>
<circle cx="501.00" cy="902.10" r="0.95" fill="#2f9e3a"/>
<line x1="556.50" y1="902.50" x2="556.50" y2="913.30" stroke="#c4c6c0" stroke-width="1.0"/>
<circle cx="556.50" cy="902.10" r="0.95" fill="#2f9e3a"/>
<text transform="translate(556.50,899.60) scale(0.9569,1)" font-size="4.232" text-anchor="middle" fill="#1a1a1a">R134H</text>
<line x1="571.00" y1="902.50" x2="571.00" y2="913.30" stroke="#8e908c" stroke-width="0.55"/>
<circle cx="571.00" cy="902.10" r="0.95" fill="#2f9e3a"/>
<line x1="582.30" y1="902.50" x2="582.30" y2="913.30" stroke="#8e908c" stroke-width="0.55"/>
<circle cx="582.30" cy="902.10" r="0.95" fill="#2f9e3a"/>
<line x1="610.00" y1="902.50" x2="610.00" y2="913.30" stroke="#8e908c" stroke-width="0.55"/>
<circle cx="610.00" cy="902.10" r="0.95" fill="#2f9e3a"/>
<line x1="640.50" y1="902.50" x2="640.50" y2="913.30" stroke="#8e908c" stroke-width="0.55"/>
<circle cx="640.50" cy="902.10" r="0.95" fill="#2f9e3a"/>
<rect x="432.80" y="913.30" width="288.00" height="4.80" fill="#bdbfb8"/>
<rect x="472.00" y="911.50" width="99.00" height="8.4" fill="#3fb234" rx="0.6"/>
<text transform="translate(521.50,917.10) scale(0.9569,1)" font-size="4.232" text-anchor="middle" fill="#ffffff">V-set</text>
<line x1="432.80" y1="921.50" x2="720.80" y2="921.50" stroke="#b0b0b0" stroke-width="0.5"/>
<line x1="432.80" y1="921.50" x2="432.80" y2="923.70" stroke="#999" stroke-width="0.5"/>
<text transform="translate(432.80,926.80) scale(0.9569,1)" font-size="4.180" text-anchor="middle" fill="#222">0</text>
<line x1="479.00" y1="921.50" x2="479.00" y2="923.70" stroke="#999" stroke-width="0.5"/>
<line x1="525.50" y1="921.50" x2="525.50" y2="923.70" stroke="#999" stroke-width="0.5"/>
<text transform="translate(525.50,926.80) scale(0.9569,1)" font-size="4.180" text-anchor="middle" fill="#222">100</text>
<line x1="571.70" y1="921.50" x2="571.70" y2="923.70" stroke="#999" stroke-width="0.5"/>
<line x1="618.00" y1="921.50" x2="618.00" y2="923.70" stroke="#999" stroke-width="0.5"/>
<text transform="translate(618.00,926.80) scale(0.9569,1)" font-size="4.180" text-anchor="middle" fill="#222">200</text>
<line x1="664.20" y1="921.50" x2="664.20" y2="923.70" stroke="#999" stroke-width="0.5"/>
<line x1="710.50" y1="921.50" x2="710.50" y2="923.70" stroke="#999" stroke-width="0.5"/>
<line x1="720.80" y1="921.50" x2="720.80" y2="923.70" stroke="#999" stroke-width="0.5"/>
<text transform="translate(722.30,926.80) scale(0.9569,1)" font-size="4.180" text-anchor="middle" fill="#222">311aa</text>
<text transform="translate(395.80,958.50) scale(0.9569,1)" font-size="10.032" text-anchor="start" fill="#1a1a1a">B7-H6</text>
<line x1="541.00" y1="942.70" x2="541.00" y2="953.50" stroke="#8e908c" stroke-width="0.55"/>
<circle cx="541.00" cy="942.30" r="0.95" fill="#2f9e3a"/>
<line x1="620.50" y1="942.70" x2="620.50" y2="953.50" stroke="#c4c6c0" stroke-width="1.0"/>
<circle cx="620.50" cy="942.30" r="0.95" fill="#2f9e3a"/>
<text transform="translate(620.50,939.80) scale(0.9569,1)" font-size="4.232" text-anchor="middle" fill="#1a1a1a">P207L</text>
<rect x="697.50" y="942.90" width="2.00" height="10.60" fill="#d2d4cf"/>
<rect x="696.50" y="941.10" width="4.00" height="1.80" fill="#4f9a5a"/>
<rect x="432.80" y="953.50" width="288.00" height="4.80" fill="#bdbfb8"/>
<rect x="534.00" y="951.70" width="50.00" height="8.4" fill="#3fb234" rx="0.6"/>
<text transform="translate(559.00,957.30) scale(0.9569,1)" font-size="4.232" text-anchor="middle" fill="#ffffff">C1-set</text>
<rect x="619.30" y="951.70" width="58.50" height="8.4" fill="#e8505b" rx="0.6"/>
<text transform="translate(648.55,957.30) scale(0.9569,1)" font-size="4.232" text-anchor="middle" fill="#ffffff">Gag_p24</text>
<line x1="432.80" y1="961.70" x2="720.80" y2="961.70" stroke="#b0b0b0" stroke-width="0.5"/>
<line x1="432.80" y1="961.70" x2="432.80" y2="963.90" stroke="#999" stroke-width="0.5"/>
<text transform="translate(432.80,967.00) scale(0.9569,1)" font-size="4.180" text-anchor="middle" fill="#222">0</text>
<line x1="464.50" y1="961.70" x2="464.50" y2="963.90" stroke="#999" stroke-width="0.5"/>
<line x1="496.30" y1="961.70" x2="496.30" y2="963.90" stroke="#999" stroke-width="0.5"/>
<text transform="translate(496.30,967.00) scale(0.9569,1)" font-size="4.180" text-anchor="middle" fill="#222">100</text>
<line x1="528.00" y1="961.70" x2="528.00" y2="963.90" stroke="#999" stroke-width="0.5"/>
<line x1="559.60" y1="961.70" x2="559.60" y2="963.90" stroke="#999" stroke-width="0.5"/>
<text transform="translate(559.60,967.00) scale(0.9569,1)" font-size="4.180" text-anchor="middle" fill="#222">200</text>
<line x1="591.00" y1="961.70" x2="591.00" y2="963.90" stroke="#999" stroke-width="0.5"/>
<line x1="623.00" y1="961.70" x2="623.00" y2="963.90" stroke="#999" stroke-width="0.5"/>
<text transform="translate(623.00,967.00) scale(0.9569,1)" font-size="4.180" text-anchor="middle" fill="#222">300</text>
<line x1="654.50" y1="961.70" x2="654.50" y2="963.90" stroke="#999" stroke-width="0.5"/>
<line x1="686.30" y1="961.70" x2="686.30" y2="963.90" stroke="#999" stroke-width="0.5"/>
<text transform="translate(686.30,967.00) scale(0.9569,1)" font-size="4.180" text-anchor="middle" fill="#222">400</text>
<line x1="720.80" y1="961.70" x2="720.80" y2="963.90" stroke="#999" stroke-width="0.5"/>
<text transform="translate(722.30,967.00) scale(0.9569,1)" font-size="4.180" text-anchor="middle" fill="#222">454aa</text>
<text transform="translate(395.80,999.40) scale(0.9569,1)" font-size="10.032" text-anchor="start" fill="#1a1a1a">B7-H7</text>
<line x1="571.80" y1="983.60" x2="571.80" y2="994.40" stroke="#8e908c" stroke-width="0.55"/>
<circle cx="571.80" cy="983.20" r="0.95" fill="#2f9e3a"/>
<line x1="582.30" y1="983.60" x2="582.30" y2="994.40" stroke="#8e908c" stroke-width="0.55"/>
<circle cx="582.30" cy="983.20" r="0.95" fill="#2f9e3a"/>
<rect x="591.30" y="983.60" width="1.40" height="10.80" fill="#d6d8d3"/>
<circle cx="592.00" cy="983.20" r="0.95" fill="#2f6f4f"/>
<line x1="615.50" y1="983.60" x2="615.50" y2="994.40" stroke="#8e908c" stroke-width="0.55"/>
<circle cx="615.50" cy="983.20" r="0.95" fill="#2f6f4f"/>
<line x1="622.50" y1="983.60" x2="622.50" y2="994.40" stroke="#8e908c" stroke-width="0.55"/>
<circle cx="622.50" cy="983.20" r="0.95" fill="#2f9e3a"/>
<line x1="623.80" y1="983.60" x2="623.80" y2="994.40" stroke="#8e908c" stroke-width="0.55"/>
<circle cx="623.80" cy="983.20" r="0.95" fill="#2f9e3a"/>
<line x1="644.00" y1="983.60" x2="644.00" y2="994.40" stroke="#c4c6c0" stroke-width="1.0"/>
<circle cx="644.00" cy="983.20" r="0.95" fill="#2f9e3a"/>
<text transform="translate(644.00,980.70) scale(0.9569,1)" font-size="4.232" text-anchor="middle" fill="#1a1a1a">L304F</text>
<line x1="689.00" y1="983.60" x2="689.00" y2="994.40" stroke="#8e908c" stroke-width="0.55"/>
<circle cx="689.00" cy="983.20" r="0.95" fill="#2f9e3a"/>
<line x1="698.30" y1="983.60" x2="698.30" y2="994.40" stroke="#8e908c" stroke-width="0.55"/>
<circle cx="698.30" cy="983.20" r="0.95" fill="#2f9e3a"/>
<rect x="432.80" y="994.40" width="288.00" height="4.80" fill="#bdbfb8"/>
<rect x="463.00" y="992.60" width="65.30" height="8.4" fill="#3fb234" rx="0.6"/>
<text transform="translate(495.65,998.20) scale(0.9569,1)" font-size="4.232" text-anchor="middle" fill="#ffffff">V-set</text>
<rect x="536.30" y="992.60" width="48.70" height="8.4" fill="#e8505b" rx="0.6"/>
<text transform="translate(560.65,998.20) scale(0.9569,1)" font-size="4.232" text-anchor="middle" fill="#ffffff">C2-set_2</text>
<rect x="595.00" y="992.60" width="68.00" height="8.4" fill="#3fb234" rx="0.6"/>
<text transform="translate(629.00,998.20) scale(0.9569,1)" font-size="4.232" text-anchor="middle" fill="#ffffff">V-set</text>
<line x1="432.80" y1="1002.60" x2="720.80" y2="1002.60" stroke="#b0b0b0" stroke-width="0.5"/>
<line x1="432.80" y1="1002.60" x2="432.80" y2="1004.80" stroke="#999" stroke-width="0.5"/>
<text transform="translate(432.80,1007.90) scale(0.9569,1)" font-size="4.180" text-anchor="middle" fill="#222">0</text>
<line x1="467.80" y1="1002.60" x2="467.80" y2="1004.80" stroke="#999" stroke-width="0.5"/>
<line x1="502.80" y1="1002.60" x2="502.80" y2="1004.80" stroke="#999" stroke-width="0.5"/>
<text transform="translate(502.80,1007.90) scale(0.9569,1)" font-size="4.180" text-anchor="middle" fill="#222">100</text>
<line x1="537.80" y1="1002.60" x2="537.80" y2="1004.80" stroke="#999" stroke-width="0.5"/>
<line x1="572.80" y1="1002.60" x2="572.80" y2="1004.80" stroke="#999" stroke-width="0.5"/>
<text transform="translate(572.80,1007.90) scale(0.9569,1)" font-size="4.180" text-anchor="middle" fill="#222">200</text>
<line x1="607.50" y1="1002.60" x2="607.50" y2="1004.80" stroke="#999" stroke-width="0.5"/>
<line x1="642.00" y1="1002.60" x2="642.00" y2="1004.80" stroke="#999" stroke-width="0.5"/>
<text transform="translate(642.00,1007.90) scale(0.9569,1)" font-size="4.180" text-anchor="middle" fill="#222">300</text>
<line x1="676.50" y1="1002.60" x2="676.50" y2="1004.80" stroke="#999" stroke-width="0.5"/>
<line x1="711.00" y1="1002.60" x2="711.00" y2="1004.80" stroke="#999" stroke-width="0.5"/>
<line x1="720.80" y1="1002.60" x2="720.80" y2="1004.80" stroke="#999" stroke-width="0.5"/>
<text transform="translate(722.30,1007.90) scale(0.9569,1)" font-size="4.180" text-anchor="middle" fill="#222">414aa</text>
</svg>
</body></html>
